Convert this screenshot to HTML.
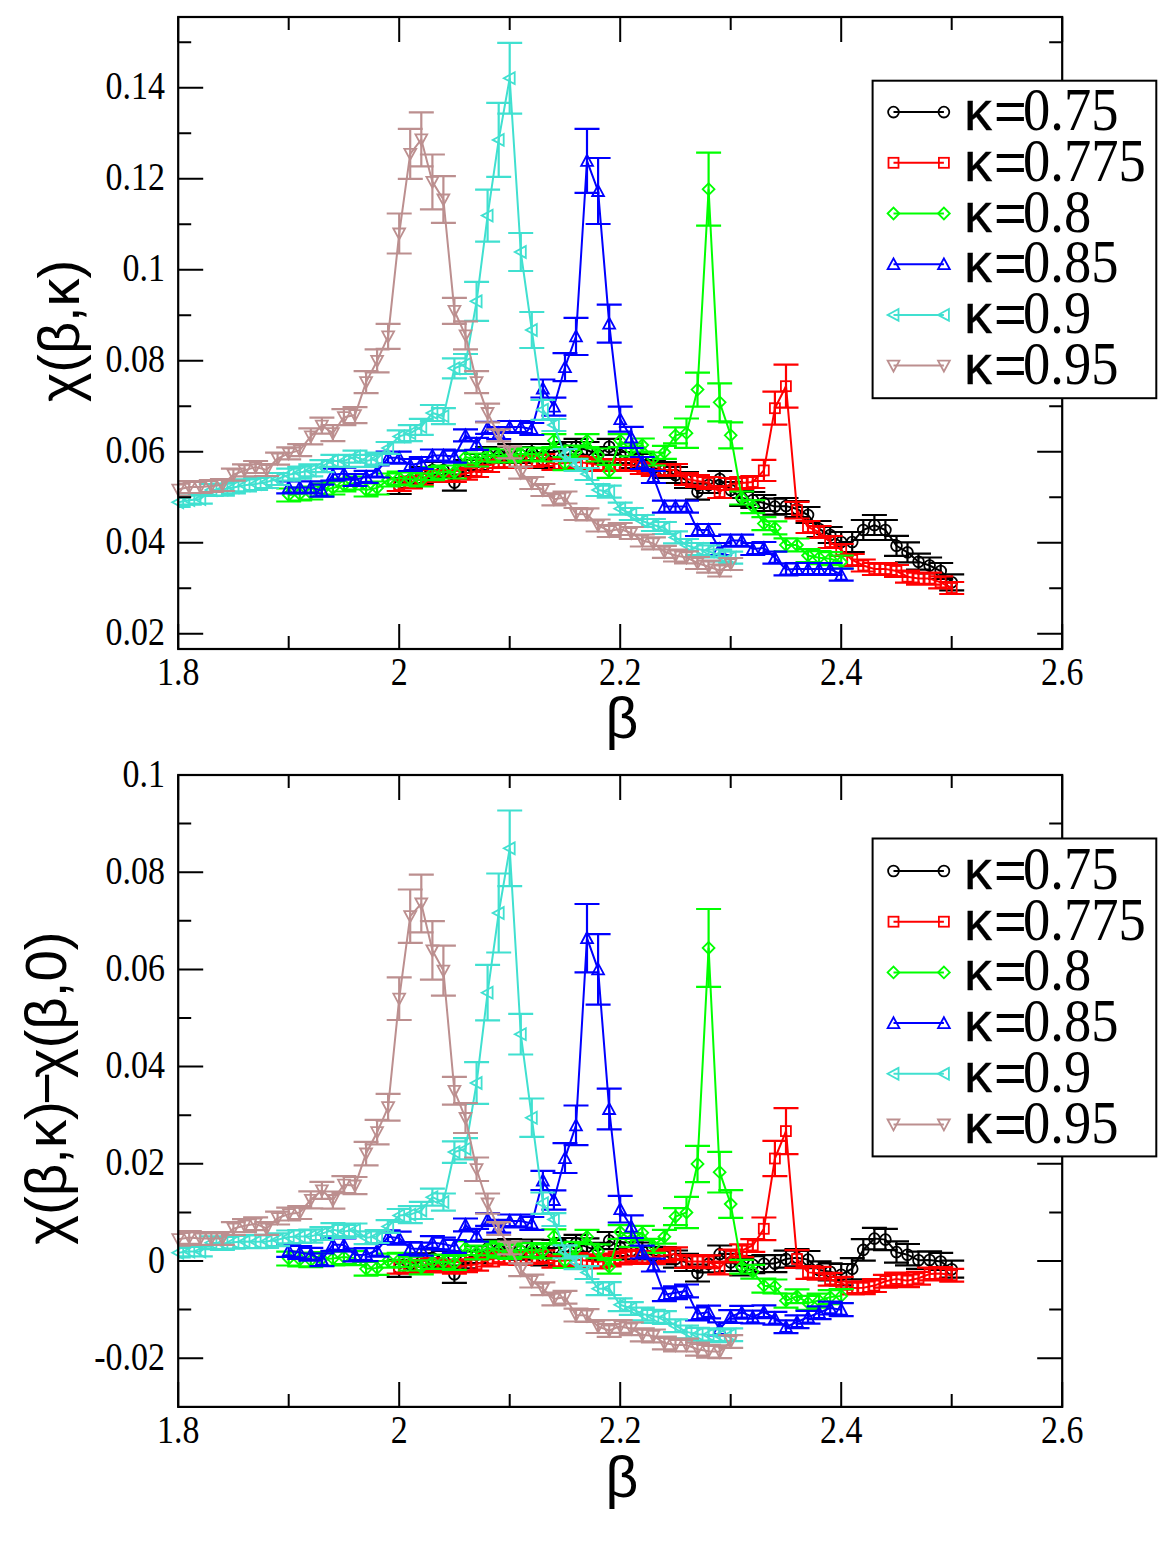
<!DOCTYPE html><html><head><meta charset="utf-8"><style>html,body{margin:0;padding:0;background:#fff;}svg{display:block}</style></head><body>
<svg width="1175" height="1565" viewBox="0 0 1175 1565">
<rect width="1175" height="1565" fill="#fff"/>
<defs><clipPath id="ct"><rect x="178.2" y="17.0" width="884.0" height="632.0"/></clipPath><clipPath id="cb"><rect x="178.2" y="775.0" width="884.0" height="631.9"/></clipPath></defs>
<g stroke="#000000" fill="none" stroke-width="2.0" clip-path="url(#ct)">
<polyline points="399.2,486.0 410.2,480.0 421.3,475.0 432.4,470.0 443.4,470.0 454.4,482.6 465.5,468.0 476.6,462.0 487.6,455.0 498.7,455.0 509.7,452.0 520.8,455.0 531.8,452.0 542.9,460.0 553.9,452.0 565.0,450.0 576.0,446.8 587.0,450.0 598.1,455.0 609.2,446.8 620.2,455.0 631.2,460.0 642.3,462.0 653.4,468.0 664.4,470.0 675.5,475.0 686.5,480.0 697.5,491.7 708.6,485.0 719.7,479.0 730.7,490.0 741.8,498.0 752.8,500.0 763.9,503.0 774.9,506.6 786.0,506.0 797.0,509.0 808.0,515.0 819.1,529.0 830.2,535.0 841.2,542.0 852.2,542.0 863.3,530.0 874.4,525.0 885.4,530.0 896.5,545.8 907.5,552.4 918.5,561.7 929.6,565.5 940.7,571.0 951.7,582.3"/>
<path d="M399.2 478.0V494.0M386.7 478.0H411.7M386.7 494.0H411.7M410.2 472.0V488.0M397.8 472.0H422.8M397.8 488.0H422.8M421.3 467.0V483.0M408.8 467.0H433.8M408.8 483.0H433.8M432.4 462.0V478.0M419.9 462.0H444.9M419.9 478.0H444.9M443.4 462.0V478.0M430.9 462.0H455.9M430.9 478.0H455.9M454.4 474.6V490.6M441.9 474.6H466.9M441.9 490.6H466.9M465.5 460.0V476.0M453.0 460.0H478.0M453.0 476.0H478.0M476.6 454.0V470.0M464.1 454.0H489.1M464.1 470.0H489.1M487.6 447.0V463.0M475.1 447.0H500.1M475.1 463.0H500.1M498.7 447.0V463.0M486.2 447.0H511.2M486.2 463.0H511.2M509.7 444.0V460.0M497.2 444.0H522.2M497.2 460.0H522.2M520.8 447.0V463.0M508.2 447.0H533.2M508.2 463.0H533.2M531.8 444.0V460.0M519.3 444.0H544.3M519.3 460.0H544.3M542.9 452.0V468.0M530.4 452.0H555.4M530.4 468.0H555.4M553.9 444.0V460.0M541.4 444.0H566.4M541.4 460.0H566.4M565.0 442.0V458.0M552.5 442.0H577.5M552.5 458.0H577.5M576.0 438.8V454.8M563.5 438.8H588.5M563.5 454.8H588.5M587.0 442.0V458.0M574.5 442.0H599.5M574.5 458.0H599.5M598.1 447.0V463.0M585.6 447.0H610.6M585.6 463.0H610.6M609.2 438.8V454.8M596.7 438.8H621.7M596.7 454.8H621.7M620.2 447.0V463.0M607.7 447.0H632.7M607.7 463.0H632.7M631.2 452.0V468.0M618.8 452.0H643.8M618.8 468.0H643.8M642.3 454.0V470.0M629.8 454.0H654.8M629.8 470.0H654.8M653.4 460.0V476.0M640.9 460.0H665.9M640.9 476.0H665.9M664.4 462.0V478.0M651.9 462.0H676.9M651.9 478.0H676.9M675.5 467.0V483.0M663.0 467.0H688.0M663.0 483.0H688.0M686.5 472.0V488.0M674.0 472.0H699.0M674.0 488.0H699.0M697.5 483.7V499.7M685.0 483.7H710.0M685.0 499.7H710.0M708.6 477.0V493.0M696.1 477.0H721.1M696.1 493.0H721.1M719.7 471.0V487.0M707.2 471.0H732.2M707.2 487.0H732.2M730.7 482.0V498.0M718.2 482.0H743.2M718.2 498.0H743.2M741.8 490.0V506.0M729.2 490.0H754.2M729.2 506.0H754.2M752.8 492.0V508.0M740.3 492.0H765.3M740.3 508.0H765.3M763.9 495.0V511.0M751.4 495.0H776.4M751.4 511.0H776.4M774.9 498.6V514.6M762.4 498.6H787.4M762.4 514.6H787.4M786.0 498.0V514.0M773.5 498.0H798.5M773.5 514.0H798.5M797.0 501.0V517.0M784.5 501.0H809.5M784.5 517.0H809.5M808.0 507.0V523.0M795.5 507.0H820.5M795.5 523.0H820.5M819.1 521.0V537.0M806.6 521.0H831.6M806.6 537.0H831.6M830.2 527.0V543.0M817.7 527.0H842.7M817.7 543.0H842.7M841.2 532.0V552.0M828.7 532.0H853.7M828.7 552.0H853.7M852.2 532.0V552.0M839.8 532.0H864.8M839.8 552.0H864.8M863.3 520.0V540.0M850.8 520.0H875.8M850.8 540.0H875.8M874.4 515.0V535.0M861.9 515.0H886.9M861.9 535.0H886.9M885.4 520.0V540.0M872.9 520.0H897.9M872.9 540.0H897.9M896.5 535.8V555.8M884.0 535.8H909.0M884.0 555.8H909.0M907.5 542.4V562.4M895.0 542.4H920.0M895.0 562.4H920.0M918.5 553.7V569.7M906.0 553.7H931.0M906.0 569.7H931.0M929.6 557.5V573.5M917.1 557.5H942.1M917.1 573.5H942.1M940.7 563.0V579.0M928.2 563.0H953.2M928.2 579.0H953.2M951.7 574.3V590.3M939.2 574.3H964.2M939.2 590.3H964.2" stroke-width="2.2"/>
</g>
<circle cx="399.2" cy="486.0" r="5.4" fill="none" stroke="#000000" stroke-width="1.8"/>
<circle cx="410.2" cy="480.0" r="5.4" fill="none" stroke="#000000" stroke-width="1.8"/>
<circle cx="421.3" cy="475.0" r="5.4" fill="none" stroke="#000000" stroke-width="1.8"/>
<circle cx="432.4" cy="470.0" r="5.4" fill="none" stroke="#000000" stroke-width="1.8"/>
<circle cx="443.4" cy="470.0" r="5.4" fill="none" stroke="#000000" stroke-width="1.8"/>
<circle cx="454.4" cy="482.6" r="5.4" fill="none" stroke="#000000" stroke-width="1.8"/>
<circle cx="465.5" cy="468.0" r="5.4" fill="none" stroke="#000000" stroke-width="1.8"/>
<circle cx="476.6" cy="462.0" r="5.4" fill="none" stroke="#000000" stroke-width="1.8"/>
<circle cx="487.6" cy="455.0" r="5.4" fill="none" stroke="#000000" stroke-width="1.8"/>
<circle cx="498.7" cy="455.0" r="5.4" fill="none" stroke="#000000" stroke-width="1.8"/>
<circle cx="509.7" cy="452.0" r="5.4" fill="none" stroke="#000000" stroke-width="1.8"/>
<circle cx="520.8" cy="455.0" r="5.4" fill="none" stroke="#000000" stroke-width="1.8"/>
<circle cx="531.8" cy="452.0" r="5.4" fill="none" stroke="#000000" stroke-width="1.8"/>
<circle cx="542.9" cy="460.0" r="5.4" fill="none" stroke="#000000" stroke-width="1.8"/>
<circle cx="553.9" cy="452.0" r="5.4" fill="none" stroke="#000000" stroke-width="1.8"/>
<circle cx="565.0" cy="450.0" r="5.4" fill="none" stroke="#000000" stroke-width="1.8"/>
<circle cx="576.0" cy="446.8" r="5.4" fill="none" stroke="#000000" stroke-width="1.8"/>
<circle cx="587.0" cy="450.0" r="5.4" fill="none" stroke="#000000" stroke-width="1.8"/>
<circle cx="598.1" cy="455.0" r="5.4" fill="none" stroke="#000000" stroke-width="1.8"/>
<circle cx="609.2" cy="446.8" r="5.4" fill="none" stroke="#000000" stroke-width="1.8"/>
<circle cx="620.2" cy="455.0" r="5.4" fill="none" stroke="#000000" stroke-width="1.8"/>
<circle cx="631.2" cy="460.0" r="5.4" fill="none" stroke="#000000" stroke-width="1.8"/>
<circle cx="642.3" cy="462.0" r="5.4" fill="none" stroke="#000000" stroke-width="1.8"/>
<circle cx="653.4" cy="468.0" r="5.4" fill="none" stroke="#000000" stroke-width="1.8"/>
<circle cx="664.4" cy="470.0" r="5.4" fill="none" stroke="#000000" stroke-width="1.8"/>
<circle cx="675.5" cy="475.0" r="5.4" fill="none" stroke="#000000" stroke-width="1.8"/>
<circle cx="686.5" cy="480.0" r="5.4" fill="none" stroke="#000000" stroke-width="1.8"/>
<circle cx="697.5" cy="491.7" r="5.4" fill="none" stroke="#000000" stroke-width="1.8"/>
<circle cx="708.6" cy="485.0" r="5.4" fill="none" stroke="#000000" stroke-width="1.8"/>
<circle cx="719.7" cy="479.0" r="5.4" fill="none" stroke="#000000" stroke-width="1.8"/>
<circle cx="730.7" cy="490.0" r="5.4" fill="none" stroke="#000000" stroke-width="1.8"/>
<circle cx="741.8" cy="498.0" r="5.4" fill="none" stroke="#000000" stroke-width="1.8"/>
<circle cx="752.8" cy="500.0" r="5.4" fill="none" stroke="#000000" stroke-width="1.8"/>
<circle cx="763.9" cy="503.0" r="5.4" fill="none" stroke="#000000" stroke-width="1.8"/>
<circle cx="774.9" cy="506.6" r="5.4" fill="none" stroke="#000000" stroke-width="1.8"/>
<circle cx="786.0" cy="506.0" r="5.4" fill="none" stroke="#000000" stroke-width="1.8"/>
<circle cx="797.0" cy="509.0" r="5.4" fill="none" stroke="#000000" stroke-width="1.8"/>
<circle cx="808.0" cy="515.0" r="5.4" fill="none" stroke="#000000" stroke-width="1.8"/>
<circle cx="819.1" cy="529.0" r="5.4" fill="none" stroke="#000000" stroke-width="1.8"/>
<circle cx="830.2" cy="535.0" r="5.4" fill="none" stroke="#000000" stroke-width="1.8"/>
<circle cx="841.2" cy="542.0" r="5.4" fill="none" stroke="#000000" stroke-width="1.8"/>
<circle cx="852.2" cy="542.0" r="5.4" fill="none" stroke="#000000" stroke-width="1.8"/>
<circle cx="863.3" cy="530.0" r="5.4" fill="none" stroke="#000000" stroke-width="1.8"/>
<circle cx="874.4" cy="525.0" r="5.4" fill="none" stroke="#000000" stroke-width="1.8"/>
<circle cx="885.4" cy="530.0" r="5.4" fill="none" stroke="#000000" stroke-width="1.8"/>
<circle cx="896.5" cy="545.8" r="5.4" fill="none" stroke="#000000" stroke-width="1.8"/>
<circle cx="907.5" cy="552.4" r="5.4" fill="none" stroke="#000000" stroke-width="1.8"/>
<circle cx="918.5" cy="561.7" r="5.4" fill="none" stroke="#000000" stroke-width="1.8"/>
<circle cx="929.6" cy="565.5" r="5.4" fill="none" stroke="#000000" stroke-width="1.8"/>
<circle cx="940.7" cy="571.0" r="5.4" fill="none" stroke="#000000" stroke-width="1.8"/>
<circle cx="951.7" cy="582.3" r="5.4" fill="none" stroke="#000000" stroke-width="1.8"/>
<g stroke="#ff0000" fill="none" stroke-width="2.0" clip-path="url(#ct)">
<polyline points="399.2,485.0 410.2,482.5 421.3,479.0 432.4,476.0 443.4,476.0 454.4,476.0 465.5,473.6 476.6,471.0 487.6,466.0 498.7,462.0 509.7,462.0 520.8,462.0 531.8,461.0 542.9,460.0 553.9,464.0 565.0,463.0 576.0,462.0 587.0,463.0 598.1,465.0 609.2,465.0 620.2,465.0 631.2,465.0 642.3,468.0 653.4,470.0 664.4,470.0 675.5,470.0 686.5,479.0 697.5,481.0 708.6,483.0 719.7,492.0 730.7,484.0 741.8,483.0 752.8,482.0 763.9,470.4 774.9,408.2 786.0,386.2 797.0,510.2 808.0,527.0 819.1,532.0 830.2,542.0 841.2,550.0 852.2,560.0 863.3,565.5 874.4,569.0 885.4,569.0 896.5,571.0 907.5,576.7 918.5,578.6 929.6,578.6 940.7,582.3 951.7,588.0"/>
<path d="M399.2 479.0V491.0M386.7 479.0H411.7M386.7 491.0H411.7M410.2 476.5V488.5M397.8 476.5H422.8M397.8 488.5H422.8M421.3 473.0V485.0M408.8 473.0H433.8M408.8 485.0H433.8M432.4 470.0V482.0M419.9 470.0H444.9M419.9 482.0H444.9M443.4 470.0V482.0M430.9 470.0H455.9M430.9 482.0H455.9M454.4 470.0V482.0M441.9 470.0H466.9M441.9 482.0H466.9M465.5 467.6V479.6M453.0 467.6H478.0M453.0 479.6H478.0M476.6 465.0V477.0M464.1 465.0H489.1M464.1 477.0H489.1M487.6 460.0V472.0M475.1 460.0H500.1M475.1 472.0H500.1M498.7 456.0V468.0M486.2 456.0H511.2M486.2 468.0H511.2M509.7 456.0V468.0M497.2 456.0H522.2M497.2 468.0H522.2M520.8 456.0V468.0M508.2 456.0H533.2M508.2 468.0H533.2M531.8 455.0V467.0M519.3 455.0H544.3M519.3 467.0H544.3M542.9 454.0V466.0M530.4 454.0H555.4M530.4 466.0H555.4M553.9 458.0V470.0M541.4 458.0H566.4M541.4 470.0H566.4M565.0 457.0V469.0M552.5 457.0H577.5M552.5 469.0H577.5M576.0 456.0V468.0M563.5 456.0H588.5M563.5 468.0H588.5M587.0 457.0V469.0M574.5 457.0H599.5M574.5 469.0H599.5M598.1 459.0V471.0M585.6 459.0H610.6M585.6 471.0H610.6M609.2 459.0V471.0M596.7 459.0H621.7M596.7 471.0H621.7M620.2 459.0V471.0M607.7 459.0H632.7M607.7 471.0H632.7M631.2 459.0V471.0M618.8 459.0H643.8M618.8 471.0H643.8M642.3 462.0V474.0M629.8 462.0H654.8M629.8 474.0H654.8M653.4 464.0V476.0M640.9 464.0H665.9M640.9 476.0H665.9M664.4 464.0V476.0M651.9 464.0H676.9M651.9 476.0H676.9M675.5 464.0V476.0M663.0 464.0H688.0M663.0 476.0H688.0M686.5 473.0V485.0M674.0 473.0H699.0M674.0 485.0H699.0M697.5 475.0V487.0M685.0 475.0H710.0M685.0 487.0H710.0M708.6 477.0V489.0M696.1 477.0H721.1M696.1 489.0H721.1M719.7 486.0V498.0M707.2 486.0H732.2M707.2 498.0H732.2M730.7 478.0V490.0M718.2 478.0H743.2M718.2 490.0H743.2M741.8 477.0V489.0M729.2 477.0H754.2M729.2 489.0H754.2M752.8 476.0V488.0M740.3 476.0H765.3M740.3 488.0H765.3M763.9 459.8V481.0M751.4 459.8H776.4M751.4 481.0H776.4M774.9 391.7V424.7M762.4 391.7H787.4M762.4 424.7H787.4M786.0 364.7V407.7M773.5 364.7H798.5M773.5 407.7H798.5M797.0 501.9V518.5M784.5 501.9H809.5M784.5 518.5H809.5M808.0 521.0V533.0M795.5 521.0H820.5M795.5 533.0H820.5M819.1 526.0V538.0M806.6 526.0H831.6M806.6 538.0H831.6M830.2 536.0V548.0M817.7 536.0H842.7M817.7 548.0H842.7M841.2 544.0V556.0M828.7 544.0H853.7M828.7 556.0H853.7M852.2 554.0V566.0M839.8 554.0H864.8M839.8 566.0H864.8M863.3 559.5V571.5M850.8 559.5H875.8M850.8 571.5H875.8M874.4 563.0V575.0M861.9 563.0H886.9M861.9 575.0H886.9M885.4 563.0V575.0M872.9 563.0H897.9M872.9 575.0H897.9M896.5 565.0V577.0M884.0 565.0H909.0M884.0 577.0H909.0M907.5 570.7V582.7M895.0 570.7H920.0M895.0 582.7H920.0M918.5 572.6V584.6M906.0 572.6H931.0M906.0 584.6H931.0M929.6 572.6V584.6M917.1 572.6H942.1M917.1 584.6H942.1M940.7 576.3V588.3M928.2 576.3H953.2M928.2 588.3H953.2M951.7 582.0V594.0M939.2 582.0H964.2M939.2 594.0H964.2" stroke-width="2.2"/>
</g>
<rect x="394.2" y="480.0" width="10.0" height="10.0" fill="none" stroke="#ff0000" stroke-width="1.8"/>
<rect x="405.2" y="477.5" width="10.0" height="10.0" fill="none" stroke="#ff0000" stroke-width="1.8"/>
<rect x="416.3" y="474.0" width="10.0" height="10.0" fill="none" stroke="#ff0000" stroke-width="1.8"/>
<rect x="427.3" y="471.0" width="10.0" height="10.0" fill="none" stroke="#ff0000" stroke-width="1.8"/>
<rect x="438.4" y="471.0" width="10.0" height="10.0" fill="none" stroke="#ff0000" stroke-width="1.8"/>
<rect x="449.4" y="471.0" width="10.0" height="10.0" fill="none" stroke="#ff0000" stroke-width="1.8"/>
<rect x="460.5" y="468.6" width="10.0" height="10.0" fill="none" stroke="#ff0000" stroke-width="1.8"/>
<rect x="471.5" y="466.0" width="10.0" height="10.0" fill="none" stroke="#ff0000" stroke-width="1.8"/>
<rect x="482.6" y="461.0" width="10.0" height="10.0" fill="none" stroke="#ff0000" stroke-width="1.8"/>
<rect x="493.6" y="457.0" width="10.0" height="10.0" fill="none" stroke="#ff0000" stroke-width="1.8"/>
<rect x="504.7" y="457.0" width="10.0" height="10.0" fill="none" stroke="#ff0000" stroke-width="1.8"/>
<rect x="515.7" y="457.0" width="10.0" height="10.0" fill="none" stroke="#ff0000" stroke-width="1.8"/>
<rect x="526.8" y="456.0" width="10.0" height="10.0" fill="none" stroke="#ff0000" stroke-width="1.8"/>
<rect x="537.8" y="455.0" width="10.0" height="10.0" fill="none" stroke="#ff0000" stroke-width="1.8"/>
<rect x="548.9" y="459.0" width="10.0" height="10.0" fill="none" stroke="#ff0000" stroke-width="1.8"/>
<rect x="559.9" y="458.0" width="10.0" height="10.0" fill="none" stroke="#ff0000" stroke-width="1.8"/>
<rect x="571.0" y="457.0" width="10.0" height="10.0" fill="none" stroke="#ff0000" stroke-width="1.8"/>
<rect x="582.0" y="458.0" width="10.0" height="10.0" fill="none" stroke="#ff0000" stroke-width="1.8"/>
<rect x="593.1" y="460.0" width="10.0" height="10.0" fill="none" stroke="#ff0000" stroke-width="1.8"/>
<rect x="604.1" y="460.0" width="10.0" height="10.0" fill="none" stroke="#ff0000" stroke-width="1.8"/>
<rect x="615.2" y="460.0" width="10.0" height="10.0" fill="none" stroke="#ff0000" stroke-width="1.8"/>
<rect x="626.2" y="460.0" width="10.0" height="10.0" fill="none" stroke="#ff0000" stroke-width="1.8"/>
<rect x="637.3" y="463.0" width="10.0" height="10.0" fill="none" stroke="#ff0000" stroke-width="1.8"/>
<rect x="648.3" y="465.0" width="10.0" height="10.0" fill="none" stroke="#ff0000" stroke-width="1.8"/>
<rect x="659.4" y="465.0" width="10.0" height="10.0" fill="none" stroke="#ff0000" stroke-width="1.8"/>
<rect x="670.4" y="465.0" width="10.0" height="10.0" fill="none" stroke="#ff0000" stroke-width="1.8"/>
<rect x="681.5" y="474.0" width="10.0" height="10.0" fill="none" stroke="#ff0000" stroke-width="1.8"/>
<rect x="692.5" y="476.0" width="10.0" height="10.0" fill="none" stroke="#ff0000" stroke-width="1.8"/>
<rect x="703.6" y="478.0" width="10.0" height="10.0" fill="none" stroke="#ff0000" stroke-width="1.8"/>
<rect x="714.6" y="487.0" width="10.0" height="10.0" fill="none" stroke="#ff0000" stroke-width="1.8"/>
<rect x="725.7" y="479.0" width="10.0" height="10.0" fill="none" stroke="#ff0000" stroke-width="1.8"/>
<rect x="736.7" y="478.0" width="10.0" height="10.0" fill="none" stroke="#ff0000" stroke-width="1.8"/>
<rect x="747.8" y="477.0" width="10.0" height="10.0" fill="none" stroke="#ff0000" stroke-width="1.8"/>
<rect x="758.8" y="465.4" width="10.0" height="10.0" fill="none" stroke="#ff0000" stroke-width="1.8"/>
<rect x="769.9" y="403.2" width="10.0" height="10.0" fill="none" stroke="#ff0000" stroke-width="1.8"/>
<rect x="780.9" y="381.2" width="10.0" height="10.0" fill="none" stroke="#ff0000" stroke-width="1.8"/>
<rect x="792.0" y="505.2" width="10.0" height="10.0" fill="none" stroke="#ff0000" stroke-width="1.8"/>
<rect x="803.0" y="522.0" width="10.0" height="10.0" fill="none" stroke="#ff0000" stroke-width="1.8"/>
<rect x="814.1" y="527.0" width="10.0" height="10.0" fill="none" stroke="#ff0000" stroke-width="1.8"/>
<rect x="825.1" y="537.0" width="10.0" height="10.0" fill="none" stroke="#ff0000" stroke-width="1.8"/>
<rect x="836.2" y="545.0" width="10.0" height="10.0" fill="none" stroke="#ff0000" stroke-width="1.8"/>
<rect x="847.2" y="555.0" width="10.0" height="10.0" fill="none" stroke="#ff0000" stroke-width="1.8"/>
<rect x="858.3" y="560.5" width="10.0" height="10.0" fill="none" stroke="#ff0000" stroke-width="1.8"/>
<rect x="869.3" y="564.0" width="10.0" height="10.0" fill="none" stroke="#ff0000" stroke-width="1.8"/>
<rect x="880.4" y="564.0" width="10.0" height="10.0" fill="none" stroke="#ff0000" stroke-width="1.8"/>
<rect x="891.4" y="566.0" width="10.0" height="10.0" fill="none" stroke="#ff0000" stroke-width="1.8"/>
<rect x="902.5" y="571.7" width="10.0" height="10.0" fill="none" stroke="#ff0000" stroke-width="1.8"/>
<rect x="913.5" y="573.6" width="10.0" height="10.0" fill="none" stroke="#ff0000" stroke-width="1.8"/>
<rect x="924.6" y="573.6" width="10.0" height="10.0" fill="none" stroke="#ff0000" stroke-width="1.8"/>
<rect x="935.6" y="577.3" width="10.0" height="10.0" fill="none" stroke="#ff0000" stroke-width="1.8"/>
<rect x="946.7" y="583.0" width="10.0" height="10.0" fill="none" stroke="#ff0000" stroke-width="1.8"/>
<g stroke="#00ff00" fill="none" stroke-width="2.0" clip-path="url(#ct)">
<polyline points="288.7,495.0 299.8,494.0 310.8,493.0 321.9,490.0 332.9,488.0 343.9,485.0 355.0,483.0 366.1,490.0 377.1,488.0 388.1,480.0 399.2,478.0 410.2,479.0 421.3,480.0 432.4,473.6 443.4,472.0 454.4,472.0 465.5,457.0 476.6,460.0 487.6,455.0 498.7,456.0 509.7,456.0 520.8,454.0 531.8,454.0 542.9,455.0 553.9,440.6 565.0,463.6 576.0,452.0 587.0,440.6 598.1,455.0 609.2,471.3 620.2,440.6 631.2,449.8 642.3,445.0 653.4,459.0 664.4,452.3 675.5,435.3 686.5,433.2 697.5,389.6 708.6,189.2 719.7,402.3 730.7,435.3 741.8,498.0 752.8,506.6 763.9,523.6 774.9,527.9 786.0,544.9 797.0,545.0 808.0,555.5 819.1,557.7 830.2,558.7 841.2,562.0"/>
<path d="M288.7 488.5V501.5M276.2 488.5H301.2M276.2 501.5H301.2M299.8 487.5V500.5M287.2 487.5H312.2M287.2 500.5H312.2M310.8 486.5V499.5M298.3 486.5H323.3M298.3 499.5H323.3M321.9 483.5V496.5M309.4 483.5H334.4M309.4 496.5H334.4M332.9 481.5V494.5M320.4 481.5H345.4M320.4 494.5H345.4M343.9 478.5V491.5M331.4 478.5H356.4M331.4 491.5H356.4M355.0 476.5V489.5M342.5 476.5H367.5M342.5 489.5H367.5M366.1 483.5V496.5M353.6 483.5H378.6M353.6 496.5H378.6M377.1 481.5V494.5M364.6 481.5H389.6M364.6 494.5H389.6M388.1 473.5V486.5M375.6 473.5H400.6M375.6 486.5H400.6M399.2 471.5V484.5M386.7 471.5H411.7M386.7 484.5H411.7M410.2 472.5V485.5M397.8 472.5H422.8M397.8 485.5H422.8M421.3 473.5V486.5M408.8 473.5H433.8M408.8 486.5H433.8M432.4 467.1V480.1M419.9 467.1H444.9M419.9 480.1H444.9M443.4 465.5V478.5M430.9 465.5H455.9M430.9 478.5H455.9M454.4 465.5V478.5M441.9 465.5H466.9M441.9 478.5H466.9M465.5 450.5V463.5M453.0 450.5H478.0M453.0 463.5H478.0M476.6 453.5V466.5M464.1 453.5H489.1M464.1 466.5H489.1M487.6 448.5V461.5M475.1 448.5H500.1M475.1 461.5H500.1M498.7 449.5V462.5M486.2 449.5H511.2M486.2 462.5H511.2M509.7 449.5V462.5M497.2 449.5H522.2M497.2 462.5H522.2M520.8 447.5V460.5M508.2 447.5H533.2M508.2 460.5H533.2M531.8 447.5V460.5M519.3 447.5H544.3M519.3 460.5H544.3M542.9 448.5V461.5M530.4 448.5H555.4M530.4 461.5H555.4M553.9 434.1V447.1M541.4 434.1H566.4M541.4 447.1H566.4M565.0 457.1V470.1M552.5 457.1H577.5M552.5 470.1H577.5M576.0 445.5V458.5M563.5 445.5H588.5M563.5 458.5H588.5M587.0 434.1V447.1M574.5 434.1H599.5M574.5 447.1H599.5M598.1 448.5V461.5M585.6 448.5H610.6M585.6 461.5H610.6M609.2 464.8V477.8M596.7 464.8H621.7M596.7 477.8H621.7M620.2 434.1V447.1M607.7 434.1H632.7M607.7 447.1H632.7M631.2 443.3V456.3M618.8 443.3H643.8M618.8 456.3H643.8M642.3 438.5V451.5M629.8 438.5H654.8M629.8 451.5H654.8M653.4 452.5V465.5M640.9 452.5H665.9M640.9 465.5H665.9M664.4 445.8V458.8M651.9 445.8H676.9M651.9 458.8H676.9M675.5 427.3V443.3M663.0 427.3H688.0M663.0 443.3H688.0M686.5 418.5V447.9M674.0 418.5H699.0M674.0 447.9H699.0M697.5 372.6V406.6M685.0 372.6H710.0M685.0 406.6H710.0M708.6 152.7V225.7M696.1 152.7H721.1M696.1 225.7H721.1M719.7 383.3V421.3M707.2 383.3H732.2M707.2 421.3H732.2M730.7 422.3V448.3M718.2 422.3H743.2M718.2 448.3H743.2M741.8 491.5V504.5M729.2 491.5H754.2M729.2 504.5H754.2M752.8 500.1V513.1M740.3 500.1H765.3M740.3 513.1H765.3M763.9 517.1V530.1M751.4 517.1H776.4M751.4 530.1H776.4M774.9 521.4V534.4M762.4 521.4H787.4M762.4 534.4H787.4M786.0 538.4V551.4M773.5 538.4H798.5M773.5 551.4H798.5M797.0 538.5V551.5M784.5 538.5H809.5M784.5 551.5H809.5M808.0 549.0V562.0M795.5 549.0H820.5M795.5 562.0H820.5M819.1 551.2V564.2M806.6 551.2H831.6M806.6 564.2H831.6M830.2 552.2V565.2M817.7 552.2H842.7M817.7 565.2H842.7M841.2 555.5V568.5M828.7 555.5H853.7M828.7 568.5H853.7" stroke-width="2.2"/>
</g>
<path d="M282.8 495.0L288.7 489.1L294.6 495.0L288.7 500.9Z" fill="none" stroke="#00ff00" stroke-width="1.8"/>
<path d="M293.8 494.0L299.8 488.1L305.7 494.0L299.8 499.9Z" fill="none" stroke="#00ff00" stroke-width="1.8"/>
<path d="M304.9 493.0L310.8 487.1L316.7 493.0L310.8 498.9Z" fill="none" stroke="#00ff00" stroke-width="1.8"/>
<path d="M315.9 490.0L321.9 484.1L327.8 490.0L321.9 495.9Z" fill="none" stroke="#00ff00" stroke-width="1.8"/>
<path d="M327.0 488.0L332.9 482.1L338.8 488.0L332.9 493.9Z" fill="none" stroke="#00ff00" stroke-width="1.8"/>
<path d="M338.0 485.0L343.9 479.1L349.9 485.0L343.9 490.9Z" fill="none" stroke="#00ff00" stroke-width="1.8"/>
<path d="M349.1 483.0L355.0 477.1L360.9 483.0L355.0 488.9Z" fill="none" stroke="#00ff00" stroke-width="1.8"/>
<path d="M360.1 490.0L366.1 484.1L372.0 490.0L366.1 495.9Z" fill="none" stroke="#00ff00" stroke-width="1.8"/>
<path d="M371.2 488.0L377.1 482.1L383.0 488.0L377.1 493.9Z" fill="none" stroke="#00ff00" stroke-width="1.8"/>
<path d="M382.2 480.0L388.1 474.1L394.1 480.0L388.1 485.9Z" fill="none" stroke="#00ff00" stroke-width="1.8"/>
<path d="M393.3 478.0L399.2 472.1L405.1 478.0L399.2 483.9Z" fill="none" stroke="#00ff00" stroke-width="1.8"/>
<path d="M404.3 479.0L410.2 473.1L416.2 479.0L410.2 484.9Z" fill="none" stroke="#00ff00" stroke-width="1.8"/>
<path d="M415.4 480.0L421.3 474.1L427.2 480.0L421.3 485.9Z" fill="none" stroke="#00ff00" stroke-width="1.8"/>
<path d="M426.4 473.6L432.4 467.7L438.3 473.6L432.4 479.5Z" fill="none" stroke="#00ff00" stroke-width="1.8"/>
<path d="M437.5 472.0L443.4 466.1L449.3 472.0L443.4 477.9Z" fill="none" stroke="#00ff00" stroke-width="1.8"/>
<path d="M448.5 472.0L454.4 466.1L460.4 472.0L454.4 477.9Z" fill="none" stroke="#00ff00" stroke-width="1.8"/>
<path d="M459.6 457.0L465.5 451.1L471.4 457.0L465.5 462.9Z" fill="none" stroke="#00ff00" stroke-width="1.8"/>
<path d="M470.6 460.0L476.6 454.1L482.5 460.0L476.6 465.9Z" fill="none" stroke="#00ff00" stroke-width="1.8"/>
<path d="M481.7 455.0L487.6 449.1L493.5 455.0L487.6 460.9Z" fill="none" stroke="#00ff00" stroke-width="1.8"/>
<path d="M492.7 456.0L498.7 450.1L504.6 456.0L498.7 461.9Z" fill="none" stroke="#00ff00" stroke-width="1.8"/>
<path d="M503.8 456.0L509.7 450.1L515.6 456.0L509.7 461.9Z" fill="none" stroke="#00ff00" stroke-width="1.8"/>
<path d="M514.8 454.0L520.8 448.1L526.7 454.0L520.8 459.9Z" fill="none" stroke="#00ff00" stroke-width="1.8"/>
<path d="M525.9 454.0L531.8 448.1L537.7 454.0L531.8 459.9Z" fill="none" stroke="#00ff00" stroke-width="1.8"/>
<path d="M536.9 455.0L542.9 449.1L548.8 455.0L542.9 460.9Z" fill="none" stroke="#00ff00" stroke-width="1.8"/>
<path d="M548.0 440.6L553.9 434.7L559.8 440.6L553.9 446.5Z" fill="none" stroke="#00ff00" stroke-width="1.8"/>
<path d="M559.0 463.6L565.0 457.7L570.9 463.6L565.0 469.5Z" fill="none" stroke="#00ff00" stroke-width="1.8"/>
<path d="M570.1 452.0L576.0 446.1L581.9 452.0L576.0 457.9Z" fill="none" stroke="#00ff00" stroke-width="1.8"/>
<path d="M581.1 440.6L587.0 434.7L593.0 440.6L587.0 446.5Z" fill="none" stroke="#00ff00" stroke-width="1.8"/>
<path d="M592.2 455.0L598.1 449.1L604.0 455.0L598.1 460.9Z" fill="none" stroke="#00ff00" stroke-width="1.8"/>
<path d="M603.2 471.3L609.2 465.4L615.1 471.3L609.2 477.2Z" fill="none" stroke="#00ff00" stroke-width="1.8"/>
<path d="M614.3 440.6L620.2 434.7L626.1 440.6L620.2 446.5Z" fill="none" stroke="#00ff00" stroke-width="1.8"/>
<path d="M625.3 449.8L631.2 443.9L637.2 449.8L631.2 455.7Z" fill="none" stroke="#00ff00" stroke-width="1.8"/>
<path d="M636.4 445.0L642.3 439.1L648.2 445.0L642.3 450.9Z" fill="none" stroke="#00ff00" stroke-width="1.8"/>
<path d="M647.4 459.0L653.4 453.1L659.3 459.0L653.4 464.9Z" fill="none" stroke="#00ff00" stroke-width="1.8"/>
<path d="M658.5 452.3L664.4 446.4L670.3 452.3L664.4 458.2Z" fill="none" stroke="#00ff00" stroke-width="1.8"/>
<path d="M669.5 435.3L675.5 429.4L681.4 435.3L675.5 441.2Z" fill="none" stroke="#00ff00" stroke-width="1.8"/>
<path d="M680.6 433.2L686.5 427.3L692.4 433.2L686.5 439.1Z" fill="none" stroke="#00ff00" stroke-width="1.8"/>
<path d="M691.6 389.6L697.5 383.7L703.5 389.6L697.5 395.5Z" fill="none" stroke="#00ff00" stroke-width="1.8"/>
<path d="M702.7 189.2L708.6 183.3L714.5 189.2L708.6 195.1Z" fill="none" stroke="#00ff00" stroke-width="1.8"/>
<path d="M713.7 402.3L719.7 396.4L725.6 402.3L719.7 408.2Z" fill="none" stroke="#00ff00" stroke-width="1.8"/>
<path d="M724.8 435.3L730.7 429.4L736.6 435.3L730.7 441.2Z" fill="none" stroke="#00ff00" stroke-width="1.8"/>
<path d="M735.8 498.0L741.8 492.1L747.7 498.0L741.8 503.9Z" fill="none" stroke="#00ff00" stroke-width="1.8"/>
<path d="M746.9 506.6L752.8 500.7L758.7 506.6L752.8 512.5Z" fill="none" stroke="#00ff00" stroke-width="1.8"/>
<path d="M757.9 523.6L763.9 517.7L769.8 523.6L763.9 529.5Z" fill="none" stroke="#00ff00" stroke-width="1.8"/>
<path d="M769.0 527.9L774.9 522.0L780.8 527.9L774.9 533.8Z" fill="none" stroke="#00ff00" stroke-width="1.8"/>
<path d="M780.0 544.9L786.0 539.0L791.9 544.9L786.0 550.8Z" fill="none" stroke="#00ff00" stroke-width="1.8"/>
<path d="M791.1 545.0L797.0 539.1L802.9 545.0L797.0 550.9Z" fill="none" stroke="#00ff00" stroke-width="1.8"/>
<path d="M802.1 555.5L808.0 549.6L814.0 555.5L808.0 561.4Z" fill="none" stroke="#00ff00" stroke-width="1.8"/>
<path d="M813.2 557.7L819.1 551.8L825.0 557.7L819.1 563.6Z" fill="none" stroke="#00ff00" stroke-width="1.8"/>
<path d="M824.2 558.7L830.2 552.8L836.1 558.7L830.2 564.6Z" fill="none" stroke="#00ff00" stroke-width="1.8"/>
<path d="M835.3 562.0L841.2 556.1L847.1 562.0L841.2 567.9Z" fill="none" stroke="#00ff00" stroke-width="1.8"/>
<g stroke="#0000ff" fill="none" stroke-width="2.0" clip-path="url(#ct)">
<polyline points="288.7,487.4 299.8,487.4 310.8,487.4 321.9,490.6 332.9,474.7 343.9,473.6 355.0,480.0 366.1,476.8 377.1,471.5 388.1,457.7 399.2,457.7 410.2,465.0 421.3,463.0 432.4,455.5 443.4,455.5 454.4,456.6 465.5,435.3 476.6,443.8 487.6,427.9 498.7,433.2 509.7,427.0 520.8,427.0 531.8,429.0 542.9,388.5 553.9,406.6 565.0,367.2 576.0,336.4 587.0,160.9 598.1,191.0 609.2,323.6 620.2,419.2 631.2,437.4 642.3,463.0 653.4,477.0 664.4,506.6 675.5,506.6 686.5,506.6 697.5,530.0 708.6,530.0 719.7,549.0 730.7,540.6 741.8,540.6 752.8,549.0 763.9,548.0 774.9,557.7 786.0,569.4 797.0,569.0 808.0,569.0 819.1,569.0 830.2,569.0 841.2,574.7"/>
<path d="M288.7 481.4V493.4M276.2 481.4H301.2M276.2 493.4H301.2M299.8 481.4V493.4M287.2 481.4H312.2M287.2 493.4H312.2M310.8 481.4V493.4M298.3 481.4H323.3M298.3 493.4H323.3M321.9 484.6V496.6M309.4 484.6H334.4M309.4 496.6H334.4M332.9 468.7V480.7M320.4 468.7H345.4M320.4 480.7H345.4M343.9 467.6V479.6M331.4 467.6H356.4M331.4 479.6H356.4M355.0 474.0V486.0M342.5 474.0H367.5M342.5 486.0H367.5M366.1 470.8V482.8M353.6 470.8H378.6M353.6 482.8H378.6M377.1 465.5V477.5M364.6 465.5H389.6M364.6 477.5H389.6M388.1 451.7V463.7M375.6 451.7H400.6M375.6 463.7H400.6M399.2 451.7V463.7M386.7 451.7H411.7M386.7 463.7H411.7M410.2 459.0V471.0M397.8 459.0H422.8M397.8 471.0H422.8M421.3 457.0V469.0M408.8 457.0H433.8M408.8 469.0H433.8M432.4 449.5V461.5M419.9 449.5H444.9M419.9 461.5H444.9M443.4 449.5V461.5M430.9 449.5H455.9M430.9 461.5H455.9M454.4 450.6V462.6M441.9 450.6H466.9M441.9 462.6H466.9M465.5 429.3V441.3M453.0 429.3H478.0M453.0 441.3H478.0M476.6 437.8V449.8M464.1 437.8H489.1M464.1 449.8H489.1M487.6 421.9V433.9M475.1 421.9H500.1M475.1 433.9H500.1M498.7 427.2V439.2M486.2 427.2H511.2M486.2 439.2H511.2M509.7 421.0V433.0M497.2 421.0H522.2M497.2 433.0H522.2M520.8 421.0V433.0M508.2 421.0H533.2M508.2 433.0H533.2M531.8 423.0V435.0M519.3 423.0H544.3M519.3 435.0H544.3M542.9 379.5V397.5M530.4 379.5H555.4M530.4 397.5H555.4M553.9 397.6V415.6M541.4 397.6H566.4M541.4 415.6H566.4M565.0 353.2V381.2M552.5 353.2H577.5M552.5 381.2H577.5M576.0 317.8V355.0M563.5 317.8H588.5M563.5 355.0H588.5M587.0 128.9V192.9M574.5 128.9H599.5M574.5 192.9H599.5M598.1 158.0V224.0M585.6 158.0H610.6M585.6 224.0H610.6M609.2 304.6V342.6M596.7 304.6H621.7M596.7 342.6H621.7M620.2 406.7V431.7M607.7 406.7H632.7M607.7 431.7H632.7M631.2 426.8V448.0M618.8 426.8H643.8M618.8 448.0H643.8M642.3 457.0V469.0M629.8 457.0H654.8M629.8 469.0H654.8M653.4 471.0V483.0M640.9 471.0H665.9M640.9 483.0H665.9M664.4 500.6V512.6M651.9 500.6H676.9M651.9 512.6H676.9M675.5 500.6V512.6M663.0 500.6H688.0M663.0 512.6H688.0M686.5 500.6V512.6M674.0 500.6H699.0M674.0 512.6H699.0M697.5 524.0V536.0M685.0 524.0H710.0M685.0 536.0H710.0M708.6 524.0V536.0M696.1 524.0H721.1M696.1 536.0H721.1M719.7 543.0V555.0M707.2 543.0H732.2M707.2 555.0H732.2M730.7 534.6V546.6M718.2 534.6H743.2M718.2 546.6H743.2M741.8 534.6V546.6M729.2 534.6H754.2M729.2 546.6H754.2M752.8 543.0V555.0M740.3 543.0H765.3M740.3 555.0H765.3M763.9 542.0V554.0M751.4 542.0H776.4M751.4 554.0H776.4M774.9 551.7V563.7M762.4 551.7H787.4M762.4 563.7H787.4M786.0 563.4V575.4M773.5 563.4H798.5M773.5 575.4H798.5M797.0 563.0V575.0M784.5 563.0H809.5M784.5 575.0H809.5M808.0 563.0V575.0M795.5 563.0H820.5M795.5 575.0H820.5M819.1 563.0V575.0M806.6 563.0H831.6M806.6 575.0H831.6M830.2 563.0V575.0M817.7 563.0H842.7M817.7 575.0H842.7M841.2 568.7V580.7M828.7 568.7H853.7M828.7 580.7H853.7" stroke-width="2.2"/>
</g>
<path d="M282.8 492.4L288.7 481.5L294.6 492.4Z" fill="none" stroke="#0000ff" stroke-width="1.8"/>
<path d="M293.8 492.4L299.8 481.5L305.7 492.4Z" fill="none" stroke="#0000ff" stroke-width="1.8"/>
<path d="M304.9 492.4L310.8 481.5L316.7 492.4Z" fill="none" stroke="#0000ff" stroke-width="1.8"/>
<path d="M315.9 495.6L321.9 484.7L327.8 495.6Z" fill="none" stroke="#0000ff" stroke-width="1.8"/>
<path d="M327.0 479.7L332.9 468.8L338.8 479.7Z" fill="none" stroke="#0000ff" stroke-width="1.8"/>
<path d="M338.0 478.6L343.9 467.7L349.9 478.6Z" fill="none" stroke="#0000ff" stroke-width="1.8"/>
<path d="M349.1 485.0L355.0 474.1L360.9 485.0Z" fill="none" stroke="#0000ff" stroke-width="1.8"/>
<path d="M360.1 481.8L366.1 470.9L372.0 481.8Z" fill="none" stroke="#0000ff" stroke-width="1.8"/>
<path d="M371.2 476.5L377.1 465.6L383.0 476.5Z" fill="none" stroke="#0000ff" stroke-width="1.8"/>
<path d="M382.2 462.7L388.1 451.8L394.1 462.7Z" fill="none" stroke="#0000ff" stroke-width="1.8"/>
<path d="M393.3 462.7L399.2 451.8L405.1 462.7Z" fill="none" stroke="#0000ff" stroke-width="1.8"/>
<path d="M404.3 470.0L410.2 459.1L416.2 470.0Z" fill="none" stroke="#0000ff" stroke-width="1.8"/>
<path d="M415.4 468.0L421.3 457.1L427.2 468.0Z" fill="none" stroke="#0000ff" stroke-width="1.8"/>
<path d="M426.4 460.5L432.4 449.6L438.3 460.5Z" fill="none" stroke="#0000ff" stroke-width="1.8"/>
<path d="M437.5 460.5L443.4 449.6L449.3 460.5Z" fill="none" stroke="#0000ff" stroke-width="1.8"/>
<path d="M448.5 461.6L454.4 450.7L460.4 461.6Z" fill="none" stroke="#0000ff" stroke-width="1.8"/>
<path d="M459.6 440.3L465.5 429.4L471.4 440.3Z" fill="none" stroke="#0000ff" stroke-width="1.8"/>
<path d="M470.6 448.8L476.6 437.9L482.5 448.8Z" fill="none" stroke="#0000ff" stroke-width="1.8"/>
<path d="M481.7 432.9L487.6 422.0L493.5 432.9Z" fill="none" stroke="#0000ff" stroke-width="1.8"/>
<path d="M492.7 438.2L498.7 427.3L504.6 438.2Z" fill="none" stroke="#0000ff" stroke-width="1.8"/>
<path d="M503.8 432.0L509.7 421.1L515.6 432.0Z" fill="none" stroke="#0000ff" stroke-width="1.8"/>
<path d="M514.8 432.0L520.8 421.1L526.7 432.0Z" fill="none" stroke="#0000ff" stroke-width="1.8"/>
<path d="M525.9 434.0L531.8 423.1L537.7 434.0Z" fill="none" stroke="#0000ff" stroke-width="1.8"/>
<path d="M536.9 393.5L542.9 382.6L548.8 393.5Z" fill="none" stroke="#0000ff" stroke-width="1.8"/>
<path d="M548.0 411.6L553.9 400.7L559.8 411.6Z" fill="none" stroke="#0000ff" stroke-width="1.8"/>
<path d="M559.0 372.2L565.0 361.3L570.9 372.2Z" fill="none" stroke="#0000ff" stroke-width="1.8"/>
<path d="M570.1 341.4L576.0 330.5L581.9 341.4Z" fill="none" stroke="#0000ff" stroke-width="1.8"/>
<path d="M581.1 165.9L587.0 155.0L593.0 165.9Z" fill="none" stroke="#0000ff" stroke-width="1.8"/>
<path d="M592.2 196.0L598.1 185.1L604.0 196.0Z" fill="none" stroke="#0000ff" stroke-width="1.8"/>
<path d="M603.2 328.6L609.2 317.7L615.1 328.6Z" fill="none" stroke="#0000ff" stroke-width="1.8"/>
<path d="M614.3 424.2L620.2 413.3L626.1 424.2Z" fill="none" stroke="#0000ff" stroke-width="1.8"/>
<path d="M625.3 442.4L631.2 431.5L637.2 442.4Z" fill="none" stroke="#0000ff" stroke-width="1.8"/>
<path d="M636.4 468.0L642.3 457.1L648.2 468.0Z" fill="none" stroke="#0000ff" stroke-width="1.8"/>
<path d="M647.4 482.0L653.4 471.1L659.3 482.0Z" fill="none" stroke="#0000ff" stroke-width="1.8"/>
<path d="M658.5 511.6L664.4 500.7L670.3 511.6Z" fill="none" stroke="#0000ff" stroke-width="1.8"/>
<path d="M669.5 511.6L675.5 500.7L681.4 511.6Z" fill="none" stroke="#0000ff" stroke-width="1.8"/>
<path d="M680.6 511.6L686.5 500.7L692.4 511.6Z" fill="none" stroke="#0000ff" stroke-width="1.8"/>
<path d="M691.6 535.0L697.5 524.1L703.5 535.0Z" fill="none" stroke="#0000ff" stroke-width="1.8"/>
<path d="M702.7 535.0L708.6 524.1L714.5 535.0Z" fill="none" stroke="#0000ff" stroke-width="1.8"/>
<path d="M713.7 554.0L719.7 543.1L725.6 554.0Z" fill="none" stroke="#0000ff" stroke-width="1.8"/>
<path d="M724.8 545.6L730.7 534.7L736.6 545.6Z" fill="none" stroke="#0000ff" stroke-width="1.8"/>
<path d="M735.8 545.6L741.8 534.7L747.7 545.6Z" fill="none" stroke="#0000ff" stroke-width="1.8"/>
<path d="M746.9 554.0L752.8 543.1L758.7 554.0Z" fill="none" stroke="#0000ff" stroke-width="1.8"/>
<path d="M757.9 553.0L763.9 542.1L769.8 553.0Z" fill="none" stroke="#0000ff" stroke-width="1.8"/>
<path d="M769.0 562.7L774.9 551.8L780.8 562.7Z" fill="none" stroke="#0000ff" stroke-width="1.8"/>
<path d="M780.0 574.4L786.0 563.5L791.9 574.4Z" fill="none" stroke="#0000ff" stroke-width="1.8"/>
<path d="M791.1 574.0L797.0 563.1L802.9 574.0Z" fill="none" stroke="#0000ff" stroke-width="1.8"/>
<path d="M802.1 574.0L808.0 563.1L814.0 574.0Z" fill="none" stroke="#0000ff" stroke-width="1.8"/>
<path d="M813.2 574.0L819.1 563.1L825.0 574.0Z" fill="none" stroke="#0000ff" stroke-width="1.8"/>
<path d="M824.2 574.0L830.2 563.1L836.1 574.0Z" fill="none" stroke="#0000ff" stroke-width="1.8"/>
<path d="M835.3 579.7L841.2 568.8L847.1 579.7Z" fill="none" stroke="#0000ff" stroke-width="1.8"/>
<g stroke="#40e0d0" fill="none" stroke-width="2.0" clip-path="url(#ct)">
<polyline points="178.2,502.3 189.2,500.2 200.3,499.1 211.3,490.0 222.4,489.6 233.4,487.4 244.5,485.3 255.6,484.0 266.6,482.0 277.6,479.0 288.7,474.7 299.8,472.6 310.8,470.4 321.9,466.2 332.9,460.9 343.9,460.9 355.0,456.6 366.1,460.9 377.1,458.7 388.1,448.0 399.2,436.4 410.2,433.2 421.3,426.8 432.4,413.0 443.4,416.2 454.4,368.3 465.5,364.0 476.6,301.3 487.6,215.6 498.7,139.9 509.7,78.2 520.8,252.0 531.8,330.0 542.9,409.8 553.9,425.0 565.0,455.0 576.0,465.0 587.0,474.0 598.1,490.0 609.2,491.7 620.2,508.7 631.2,514.0 642.3,521.0 653.4,525.0 664.4,528.0 675.5,537.4 686.5,545.0 697.5,549.0 708.6,551.3 719.7,555.5 730.7,557.7"/>
<path d="M178.2 497.8V506.8M165.7 497.8H190.7M165.7 506.8H190.7M189.2 495.7V504.7M176.8 495.7H201.8M176.8 504.7H201.8M200.3 494.6V503.6M187.8 494.6H212.8M187.8 503.6H212.8M211.3 484.0V496.0M198.8 484.0H223.8M198.8 496.0H223.8M222.4 483.6V495.6M209.9 483.6H234.9M209.9 495.6H234.9M233.4 481.4V493.4M220.9 481.4H245.9M220.9 493.4H245.9M244.5 479.3V491.3M232.0 479.3H257.0M232.0 491.3H257.0M255.6 478.0V490.0M243.1 478.0H268.1M243.1 490.0H268.1M266.6 476.0V488.0M254.1 476.0H279.1M254.1 488.0H279.1M277.6 473.0V485.0M265.1 473.0H290.1M265.1 485.0H290.1M288.7 468.7V480.7M276.2 468.7H301.2M276.2 480.7H301.2M299.8 466.6V478.6M287.2 466.6H312.2M287.2 478.6H312.2M310.8 464.4V476.4M298.3 464.4H323.3M298.3 476.4H323.3M321.9 460.2V472.2M309.4 460.2H334.4M309.4 472.2H334.4M332.9 454.9V466.9M320.4 454.9H345.4M320.4 466.9H345.4M343.9 454.9V466.9M331.4 454.9H356.4M331.4 466.9H356.4M355.0 450.6V462.6M342.5 450.6H367.5M342.5 462.6H367.5M366.1 454.9V466.9M353.6 454.9H378.6M353.6 466.9H378.6M377.1 452.7V464.7M364.6 452.7H389.6M364.6 464.7H389.6M388.1 442.0V454.0M375.6 442.0H400.6M375.6 454.0H400.6M399.2 430.4V442.4M386.7 430.4H411.7M386.7 442.4H411.7M410.2 425.2V441.2M397.8 425.2H422.8M397.8 441.2H422.8M421.3 418.8V434.8M408.8 418.8H433.8M408.8 434.8H433.8M432.4 405.0V421.0M419.9 405.0H444.9M419.9 421.0H444.9M443.4 408.2V424.2M430.9 408.2H455.9M430.9 424.2H455.9M454.4 358.3V378.3M441.9 358.3H466.9M441.9 378.3H466.9M465.5 354.0V374.0M453.0 354.0H478.0M453.0 374.0H478.0M476.6 281.8V320.8M464.1 281.8H489.1M464.1 320.8H489.1M487.6 189.6V241.6M475.1 189.6H500.1M475.1 241.6H500.1M498.7 102.9V176.9M486.2 102.9H511.2M486.2 176.9H511.2M509.7 42.8V113.6M497.2 42.8H522.2M497.2 113.6H522.2M520.8 233.0V271.0M508.2 233.0H533.2M508.2 271.0H533.2M531.8 312.0V348.0M519.3 312.0H544.3M519.3 348.0H544.3M542.9 399.8V419.8M530.4 399.8H555.4M530.4 419.8H555.4M553.9 419.0V431.0M541.4 419.0H566.4M541.4 431.0H566.4M565.0 449.0V461.0M552.5 449.0H577.5M552.5 461.0H577.5M576.0 459.0V471.0M563.5 459.0H588.5M563.5 471.0H588.5M587.0 468.0V480.0M574.5 468.0H599.5M574.5 480.0H599.5M598.1 484.0V496.0M585.6 484.0H610.6M585.6 496.0H610.6M609.2 485.7V497.7M596.7 485.7H621.7M596.7 497.7H621.7M620.2 502.7V514.7M607.7 502.7H632.7M607.7 514.7H632.7M631.2 508.0V520.0M618.8 508.0H643.8M618.8 520.0H643.8M642.3 515.0V527.0M629.8 515.0H654.8M629.8 527.0H654.8M653.4 519.0V531.0M640.9 519.0H665.9M640.9 531.0H665.9M664.4 522.0V534.0M651.9 522.0H676.9M651.9 534.0H676.9M675.5 531.4V543.4M663.0 531.4H688.0M663.0 543.4H688.0M686.5 539.0V551.0M674.0 539.0H699.0M674.0 551.0H699.0M697.5 543.0V555.0M685.0 543.0H710.0M685.0 555.0H710.0M708.6 545.3V557.3M696.1 545.3H721.1M696.1 557.3H721.1M719.7 549.5V561.5M707.2 549.5H732.2M707.2 561.5H732.2M730.7 551.7V563.7M718.2 551.7H743.2M718.2 563.7H743.2" stroke-width="2.2"/>
</g>
<path d="M183.2 496.4L172.3 502.3L183.2 508.2Z" fill="none" stroke="#40e0d0" stroke-width="1.8"/>
<path d="M194.3 494.3L183.3 500.2L194.3 506.1Z" fill="none" stroke="#40e0d0" stroke-width="1.8"/>
<path d="M205.3 493.2L194.4 499.1L205.3 505.0Z" fill="none" stroke="#40e0d0" stroke-width="1.8"/>
<path d="M216.4 484.1L205.4 490.0L216.4 495.9Z" fill="none" stroke="#40e0d0" stroke-width="1.8"/>
<path d="M227.4 483.7L216.5 489.6L227.4 495.5Z" fill="none" stroke="#40e0d0" stroke-width="1.8"/>
<path d="M238.5 481.5L227.5 487.4L238.5 493.3Z" fill="none" stroke="#40e0d0" stroke-width="1.8"/>
<path d="M249.5 479.4L238.6 485.3L249.5 491.2Z" fill="none" stroke="#40e0d0" stroke-width="1.8"/>
<path d="M260.6 478.1L249.6 484.0L260.6 489.9Z" fill="none" stroke="#40e0d0" stroke-width="1.8"/>
<path d="M271.6 476.1L260.7 482.0L271.6 487.9Z" fill="none" stroke="#40e0d0" stroke-width="1.8"/>
<path d="M282.7 473.1L271.7 479.0L282.7 484.9Z" fill="none" stroke="#40e0d0" stroke-width="1.8"/>
<path d="M293.7 468.8L282.8 474.7L293.7 480.6Z" fill="none" stroke="#40e0d0" stroke-width="1.8"/>
<path d="M304.8 466.7L293.8 472.6L304.8 478.5Z" fill="none" stroke="#40e0d0" stroke-width="1.8"/>
<path d="M315.8 464.5L304.9 470.4L315.8 476.3Z" fill="none" stroke="#40e0d0" stroke-width="1.8"/>
<path d="M326.9 460.3L315.9 466.2L326.9 472.1Z" fill="none" stroke="#40e0d0" stroke-width="1.8"/>
<path d="M337.9 455.0L327.0 460.9L337.9 466.8Z" fill="none" stroke="#40e0d0" stroke-width="1.8"/>
<path d="M349.0 455.0L338.0 460.9L349.0 466.8Z" fill="none" stroke="#40e0d0" stroke-width="1.8"/>
<path d="M360.0 450.7L349.1 456.6L360.0 462.5Z" fill="none" stroke="#40e0d0" stroke-width="1.8"/>
<path d="M371.1 455.0L360.1 460.9L371.1 466.8Z" fill="none" stroke="#40e0d0" stroke-width="1.8"/>
<path d="M382.1 452.8L371.2 458.7L382.1 464.6Z" fill="none" stroke="#40e0d0" stroke-width="1.8"/>
<path d="M393.2 442.1L382.2 448.0L393.2 453.9Z" fill="none" stroke="#40e0d0" stroke-width="1.8"/>
<path d="M404.2 430.5L393.3 436.4L404.2 442.3Z" fill="none" stroke="#40e0d0" stroke-width="1.8"/>
<path d="M415.3 427.3L404.3 433.2L415.3 439.1Z" fill="none" stroke="#40e0d0" stroke-width="1.8"/>
<path d="M426.3 420.9L415.4 426.8L426.3 432.7Z" fill="none" stroke="#40e0d0" stroke-width="1.8"/>
<path d="M437.4 407.1L426.4 413.0L437.4 418.9Z" fill="none" stroke="#40e0d0" stroke-width="1.8"/>
<path d="M448.4 410.3L437.5 416.2L448.4 422.1Z" fill="none" stroke="#40e0d0" stroke-width="1.8"/>
<path d="M459.5 362.4L448.5 368.3L459.5 374.2Z" fill="none" stroke="#40e0d0" stroke-width="1.8"/>
<path d="M470.5 358.1L459.6 364.0L470.5 369.9Z" fill="none" stroke="#40e0d0" stroke-width="1.8"/>
<path d="M481.6 295.4L470.6 301.3L481.6 307.2Z" fill="none" stroke="#40e0d0" stroke-width="1.8"/>
<path d="M492.6 209.7L481.7 215.6L492.6 221.5Z" fill="none" stroke="#40e0d0" stroke-width="1.8"/>
<path d="M503.7 134.0L492.7 139.9L503.7 145.8Z" fill="none" stroke="#40e0d0" stroke-width="1.8"/>
<path d="M514.7 72.3L503.8 78.2L514.7 84.1Z" fill="none" stroke="#40e0d0" stroke-width="1.8"/>
<path d="M525.8 246.1L514.8 252.0L525.8 257.9Z" fill="none" stroke="#40e0d0" stroke-width="1.8"/>
<path d="M536.8 324.1L525.9 330.0L536.8 335.9Z" fill="none" stroke="#40e0d0" stroke-width="1.8"/>
<path d="M547.9 403.9L536.9 409.8L547.9 415.7Z" fill="none" stroke="#40e0d0" stroke-width="1.8"/>
<path d="M558.9 419.1L548.0 425.0L558.9 430.9Z" fill="none" stroke="#40e0d0" stroke-width="1.8"/>
<path d="M570.0 449.1L559.0 455.0L570.0 460.9Z" fill="none" stroke="#40e0d0" stroke-width="1.8"/>
<path d="M581.0 459.1L570.1 465.0L581.0 470.9Z" fill="none" stroke="#40e0d0" stroke-width="1.8"/>
<path d="M592.1 468.1L581.1 474.0L592.1 479.9Z" fill="none" stroke="#40e0d0" stroke-width="1.8"/>
<path d="M603.1 484.1L592.2 490.0L603.1 495.9Z" fill="none" stroke="#40e0d0" stroke-width="1.8"/>
<path d="M614.2 485.8L603.2 491.7L614.2 497.6Z" fill="none" stroke="#40e0d0" stroke-width="1.8"/>
<path d="M625.2 502.8L614.3 508.7L625.2 514.6Z" fill="none" stroke="#40e0d0" stroke-width="1.8"/>
<path d="M636.3 508.1L625.3 514.0L636.3 519.9Z" fill="none" stroke="#40e0d0" stroke-width="1.8"/>
<path d="M647.3 515.1L636.4 521.0L647.3 526.9Z" fill="none" stroke="#40e0d0" stroke-width="1.8"/>
<path d="M658.4 519.1L647.4 525.0L658.4 530.9Z" fill="none" stroke="#40e0d0" stroke-width="1.8"/>
<path d="M669.4 522.1L658.5 528.0L669.4 533.9Z" fill="none" stroke="#40e0d0" stroke-width="1.8"/>
<path d="M680.5 531.5L669.5 537.4L680.5 543.3Z" fill="none" stroke="#40e0d0" stroke-width="1.8"/>
<path d="M691.5 539.1L680.6 545.0L691.5 550.9Z" fill="none" stroke="#40e0d0" stroke-width="1.8"/>
<path d="M702.6 543.1L691.6 549.0L702.6 554.9Z" fill="none" stroke="#40e0d0" stroke-width="1.8"/>
<path d="M713.6 545.4L702.7 551.3L713.6 557.2Z" fill="none" stroke="#40e0d0" stroke-width="1.8"/>
<path d="M724.7 549.6L713.7 555.5L724.7 561.4Z" fill="none" stroke="#40e0d0" stroke-width="1.8"/>
<path d="M735.7 551.8L724.8 557.7L735.7 563.6Z" fill="none" stroke="#40e0d0" stroke-width="1.8"/>
<g stroke="#bc8f8f" fill="none" stroke-width="2.0" clip-path="url(#ct)">
<polyline points="178.2,489.6 189.2,487.0 200.3,487.0 211.3,486.0 222.4,485.0 233.4,474.7 244.5,470.4 255.6,467.0 266.6,470.0 277.6,458.7 288.7,453.4 299.8,450.2 310.8,436.4 321.9,425.7 332.9,433.2 343.9,417.2 355.0,415.1 366.1,382.1 377.1,360.9 388.1,336.4 399.2,233.5 410.2,153.8 421.3,139.4 432.4,181.9 443.4,199.5 454.4,310.9 465.5,335.3 476.6,382.1 487.6,413.0 498.7,435.3 509.7,452.3 520.8,472.6 531.8,483.0 542.9,490.0 553.9,499.3 565.0,497.5 576.0,514.0 587.0,514.3 598.1,525.5 609.2,531.0 620.2,529.0 631.2,533.0 642.3,540.5 653.4,543.3 664.4,551.8 675.5,555.5 686.5,557.4 697.5,563.0 708.6,566.7 719.7,570.5 730.7,564.0"/>
<path d="M178.2 483.6V495.6M165.7 483.6H190.7M165.7 495.6H190.7M189.2 481.0V493.0M176.8 481.0H201.8M176.8 493.0H201.8M200.3 481.0V493.0M187.8 481.0H212.8M187.8 493.0H212.8M211.3 480.0V492.0M198.8 480.0H223.8M198.8 492.0H223.8M222.4 479.0V491.0M209.9 479.0H234.9M209.9 491.0H234.9M233.4 468.7V480.7M220.9 468.7H245.9M220.9 480.7H245.9M244.5 464.4V476.4M232.0 464.4H257.0M232.0 476.4H257.0M255.6 461.0V473.0M243.1 461.0H268.1M243.1 473.0H268.1M266.6 464.0V476.0M254.1 464.0H279.1M254.1 476.0H279.1M277.6 452.7V464.7M265.1 452.7H290.1M265.1 464.7H290.1M288.7 447.4V459.4M276.2 447.4H301.2M276.2 459.4H301.2M299.8 444.2V456.2M287.2 444.2H312.2M287.2 456.2H312.2M310.8 428.4V444.4M298.3 428.4H323.3M298.3 444.4H323.3M321.9 417.7V433.7M309.4 417.7H334.4M309.4 433.7H334.4M332.9 425.2V441.2M320.4 425.2H345.4M320.4 441.2H345.4M343.9 409.2V425.2M331.4 409.2H356.4M331.4 425.2H356.4M355.0 407.1V423.1M342.5 407.1H367.5M342.5 423.1H367.5M366.1 371.1V393.1M353.6 371.1H378.6M353.6 393.1H378.6M377.1 349.4V372.4M364.6 349.4H389.6M364.6 372.4H389.6M388.1 323.9V348.9M375.6 323.9H400.6M375.6 348.9H400.6M399.2 213.5V253.5M386.7 213.5H411.7M386.7 253.5H411.7M410.2 128.8V178.8M397.8 128.8H422.8M397.8 178.8H422.8M421.3 112.4V166.4M408.8 112.4H433.8M408.8 166.4H433.8M432.4 154.5V209.3M419.9 154.5H444.9M419.9 209.3H444.9M443.4 176.1V222.9M430.9 176.1H455.9M430.9 222.9H455.9M454.4 297.9V323.9M441.9 297.9H466.9M441.9 323.9H466.9M465.5 321.3V349.3M453.0 321.3H478.0M453.0 349.3H478.0M476.6 371.1V393.1M464.1 371.1H489.1M464.1 393.1H489.1M487.6 403.6V422.4M475.1 403.6H500.1M475.1 422.4H500.1M498.7 429.3V441.3M486.2 429.3H511.2M486.2 441.3H511.2M509.7 446.3V458.3M497.2 446.3H522.2M497.2 458.3H522.2M520.8 466.6V478.6M508.2 466.6H533.2M508.2 478.6H533.2M531.8 477.0V489.0M519.3 477.0H544.3M519.3 489.0H544.3M542.9 484.0V496.0M530.4 484.0H555.4M530.4 496.0H555.4M553.9 493.3V505.3M541.4 493.3H566.4M541.4 505.3H566.4M565.0 491.5V503.5M552.5 491.5H577.5M552.5 503.5H577.5M576.0 508.0V520.0M563.5 508.0H588.5M563.5 520.0H588.5M587.0 508.3V520.3M574.5 508.3H599.5M574.5 520.3H599.5M598.1 519.5V531.5M585.6 519.5H610.6M585.6 531.5H610.6M609.2 525.0V537.0M596.7 525.0H621.7M596.7 537.0H621.7M620.2 523.0V535.0M607.7 523.0H632.7M607.7 535.0H632.7M631.2 527.0V539.0M618.8 527.0H643.8M618.8 539.0H643.8M642.3 534.5V546.5M629.8 534.5H654.8M629.8 546.5H654.8M653.4 537.3V549.3M640.9 537.3H665.9M640.9 549.3H665.9M664.4 545.8V557.8M651.9 545.8H676.9M651.9 557.8H676.9M675.5 549.5V561.5M663.0 549.5H688.0M663.0 561.5H688.0M686.5 551.4V563.4M674.0 551.4H699.0M674.0 563.4H699.0M697.5 557.0V569.0M685.0 557.0H710.0M685.0 569.0H710.0M708.6 560.7V572.7M696.1 560.7H721.1M696.1 572.7H721.1M719.7 564.5V576.5M707.2 564.5H732.2M707.2 576.5H732.2M730.7 558.0V570.0M718.2 558.0H743.2M718.2 570.0H743.2" stroke-width="2.2"/>
</g>
<path d="M172.3 484.6L178.2 495.5L184.1 484.6Z" fill="none" stroke="#bc8f8f" stroke-width="1.8"/>
<path d="M183.3 482.0L189.2 492.9L195.2 482.0Z" fill="none" stroke="#bc8f8f" stroke-width="1.8"/>
<path d="M194.4 482.0L200.3 492.9L206.2 482.0Z" fill="none" stroke="#bc8f8f" stroke-width="1.8"/>
<path d="M205.4 481.0L211.3 491.9L217.3 481.0Z" fill="none" stroke="#bc8f8f" stroke-width="1.8"/>
<path d="M216.5 480.0L222.4 490.9L228.3 480.0Z" fill="none" stroke="#bc8f8f" stroke-width="1.8"/>
<path d="M227.5 469.7L233.4 480.6L239.4 469.7Z" fill="none" stroke="#bc8f8f" stroke-width="1.8"/>
<path d="M238.6 465.4L244.5 476.3L250.4 465.4Z" fill="none" stroke="#bc8f8f" stroke-width="1.8"/>
<path d="M249.6 462.0L255.6 472.9L261.5 462.0Z" fill="none" stroke="#bc8f8f" stroke-width="1.8"/>
<path d="M260.7 465.0L266.6 475.9L272.5 465.0Z" fill="none" stroke="#bc8f8f" stroke-width="1.8"/>
<path d="M271.7 453.7L277.6 464.6L283.6 453.7Z" fill="none" stroke="#bc8f8f" stroke-width="1.8"/>
<path d="M282.8 448.4L288.7 459.3L294.6 448.4Z" fill="none" stroke="#bc8f8f" stroke-width="1.8"/>
<path d="M293.8 445.2L299.8 456.1L305.7 445.2Z" fill="none" stroke="#bc8f8f" stroke-width="1.8"/>
<path d="M304.9 431.4L310.8 442.3L316.7 431.4Z" fill="none" stroke="#bc8f8f" stroke-width="1.8"/>
<path d="M315.9 420.7L321.9 431.6L327.8 420.7Z" fill="none" stroke="#bc8f8f" stroke-width="1.8"/>
<path d="M327.0 428.2L332.9 439.1L338.8 428.2Z" fill="none" stroke="#bc8f8f" stroke-width="1.8"/>
<path d="M338.0 412.2L343.9 423.1L349.9 412.2Z" fill="none" stroke="#bc8f8f" stroke-width="1.8"/>
<path d="M349.1 410.1L355.0 421.0L360.9 410.1Z" fill="none" stroke="#bc8f8f" stroke-width="1.8"/>
<path d="M360.1 377.1L366.1 388.0L372.0 377.1Z" fill="none" stroke="#bc8f8f" stroke-width="1.8"/>
<path d="M371.2 355.9L377.1 366.8L383.0 355.9Z" fill="none" stroke="#bc8f8f" stroke-width="1.8"/>
<path d="M382.2 331.4L388.1 342.3L394.1 331.4Z" fill="none" stroke="#bc8f8f" stroke-width="1.8"/>
<path d="M393.3 228.5L399.2 239.4L405.1 228.5Z" fill="none" stroke="#bc8f8f" stroke-width="1.8"/>
<path d="M404.3 148.8L410.2 159.7L416.2 148.8Z" fill="none" stroke="#bc8f8f" stroke-width="1.8"/>
<path d="M415.4 134.4L421.3 145.3L427.2 134.4Z" fill="none" stroke="#bc8f8f" stroke-width="1.8"/>
<path d="M426.4 176.9L432.4 187.8L438.3 176.9Z" fill="none" stroke="#bc8f8f" stroke-width="1.8"/>
<path d="M437.5 194.5L443.4 205.4L449.3 194.5Z" fill="none" stroke="#bc8f8f" stroke-width="1.8"/>
<path d="M448.5 305.9L454.4 316.8L460.4 305.9Z" fill="none" stroke="#bc8f8f" stroke-width="1.8"/>
<path d="M459.6 330.3L465.5 341.2L471.4 330.3Z" fill="none" stroke="#bc8f8f" stroke-width="1.8"/>
<path d="M470.6 377.1L476.6 388.0L482.5 377.1Z" fill="none" stroke="#bc8f8f" stroke-width="1.8"/>
<path d="M481.7 408.0L487.6 418.9L493.5 408.0Z" fill="none" stroke="#bc8f8f" stroke-width="1.8"/>
<path d="M492.7 430.3L498.7 441.2L504.6 430.3Z" fill="none" stroke="#bc8f8f" stroke-width="1.8"/>
<path d="M503.8 447.3L509.7 458.2L515.6 447.3Z" fill="none" stroke="#bc8f8f" stroke-width="1.8"/>
<path d="M514.8 467.6L520.8 478.5L526.7 467.6Z" fill="none" stroke="#bc8f8f" stroke-width="1.8"/>
<path d="M525.9 478.0L531.8 488.9L537.7 478.0Z" fill="none" stroke="#bc8f8f" stroke-width="1.8"/>
<path d="M536.9 485.0L542.9 495.9L548.8 485.0Z" fill="none" stroke="#bc8f8f" stroke-width="1.8"/>
<path d="M548.0 494.3L553.9 505.2L559.8 494.3Z" fill="none" stroke="#bc8f8f" stroke-width="1.8"/>
<path d="M559.0 492.5L565.0 503.4L570.9 492.5Z" fill="none" stroke="#bc8f8f" stroke-width="1.8"/>
<path d="M570.1 509.0L576.0 519.9L581.9 509.0Z" fill="none" stroke="#bc8f8f" stroke-width="1.8"/>
<path d="M581.1 509.3L587.0 520.2L593.0 509.3Z" fill="none" stroke="#bc8f8f" stroke-width="1.8"/>
<path d="M592.2 520.5L598.1 531.4L604.0 520.5Z" fill="none" stroke="#bc8f8f" stroke-width="1.8"/>
<path d="M603.2 526.0L609.2 536.9L615.1 526.0Z" fill="none" stroke="#bc8f8f" stroke-width="1.8"/>
<path d="M614.3 524.0L620.2 534.9L626.1 524.0Z" fill="none" stroke="#bc8f8f" stroke-width="1.8"/>
<path d="M625.3 528.0L631.2 538.9L637.2 528.0Z" fill="none" stroke="#bc8f8f" stroke-width="1.8"/>
<path d="M636.4 535.5L642.3 546.4L648.2 535.5Z" fill="none" stroke="#bc8f8f" stroke-width="1.8"/>
<path d="M647.4 538.3L653.4 549.2L659.3 538.3Z" fill="none" stroke="#bc8f8f" stroke-width="1.8"/>
<path d="M658.5 546.8L664.4 557.7L670.3 546.8Z" fill="none" stroke="#bc8f8f" stroke-width="1.8"/>
<path d="M669.5 550.5L675.5 561.4L681.4 550.5Z" fill="none" stroke="#bc8f8f" stroke-width="1.8"/>
<path d="M680.6 552.4L686.5 563.3L692.4 552.4Z" fill="none" stroke="#bc8f8f" stroke-width="1.8"/>
<path d="M691.6 558.0L697.5 568.9L703.5 558.0Z" fill="none" stroke="#bc8f8f" stroke-width="1.8"/>
<path d="M702.7 561.7L708.6 572.6L714.5 561.7Z" fill="none" stroke="#bc8f8f" stroke-width="1.8"/>
<path d="M713.7 565.5L719.7 576.4L725.6 565.5Z" fill="none" stroke="#bc8f8f" stroke-width="1.8"/>
<path d="M724.8 559.0L730.7 569.9L736.6 559.0Z" fill="none" stroke="#bc8f8f" stroke-width="1.8"/>
<rect x="178.2" y="17.0" width="884.0" height="632.0" fill="none" stroke="#000" stroke-width="2.2"/>
<path d="M178.2 649.0v-25M178.2 17.0v25M399.2 649.0v-25M399.2 17.0v25M620.2 649.0v-25M620.2 17.0v25M841.2 649.0v-25M841.2 17.0v25M1062.2 649.0v-25M1062.2 17.0v25M288.7 649.0v-13M288.7 17.0v13M509.7 649.0v-13M509.7 17.0v13M730.7 649.0v-13M730.7 17.0v13M951.7 649.0v-13M951.7 17.0v13M178.2 633.8h25M1062.2 633.8h-25M178.2 542.8h25M1062.2 542.8h-25M178.2 451.8h25M1062.2 451.8h-25M178.2 360.8h25M1062.2 360.8h-25M178.2 269.8h25M1062.2 269.8h-25M178.2 178.8h25M1062.2 178.8h-25M178.2 87.8h25M1062.2 87.8h-25M178.2 588.3h13M1062.2 588.3h-13M178.2 497.3h13M1062.2 497.3h-13M178.2 406.3h13M1062.2 406.3h-13M178.2 315.3h13M1062.2 315.3h-13M178.2 224.3h13M1062.2 224.3h-13M178.2 133.3h13M1062.2 133.3h-13M178.2 42.3h13M1062.2 42.3h-13" stroke="#000" stroke-width="2" fill="none"/>
<g stroke="#000000" fill="none" stroke-width="2.0" clip-path="url(#cb)">
<polyline points="399.2,1268.4 410.2,1264.6 421.3,1262.0 432.4,1258.1 443.4,1259.5 454.4,1274.2 465.5,1259.8 476.6,1254.6 487.6,1248.4 498.7,1249.6 509.7,1247.6 520.8,1251.0 531.8,1248.0 542.9,1256.8 553.9,1248.4 565.0,1246.5 576.0,1243.3 587.0,1246.9 598.1,1251.3 609.2,1240.6 620.2,1247.4 631.2,1250.8 642.3,1251.0 653.4,1255.5 664.4,1255.7 675.5,1259.1 686.5,1262.4 697.5,1273.0 708.6,1263.9 719.7,1254.1 730.7,1262.4 741.8,1266.8 752.8,1264.7 763.9,1263.7 774.9,1263.6 786.0,1259.1 797.0,1257.8 808.0,1259.6 819.1,1270.0 830.2,1271.8 841.2,1274.7 852.2,1268.7 863.3,1249.9 874.4,1238.6 885.4,1239.6 896.5,1252.1 907.5,1254.7 918.5,1260.3 929.6,1260.0 940.7,1261.5 951.7,1269.2"/>
<path d="M399.2 1259.8V1276.9M386.7 1259.8H411.7M386.7 1276.9H411.7M410.2 1256.1V1273.2M397.8 1256.1H422.8M397.8 1273.2H422.8M421.3 1253.4V1270.5M408.8 1253.4H433.8M408.8 1270.5H433.8M432.4 1249.5V1266.6M419.9 1249.5H444.9M419.9 1266.6H444.9M443.4 1251.0V1268.1M430.9 1251.0H455.9M430.9 1268.1H455.9M454.4 1265.7V1282.8M441.9 1265.7H466.9M441.9 1282.8H466.9M465.5 1251.3V1268.4M453.0 1251.3H478.0M453.0 1268.4H478.0M476.6 1246.1V1263.2M464.1 1246.1H489.1M464.1 1263.2H489.1M487.6 1239.8V1256.9M475.1 1239.8H500.1M475.1 1256.9H500.1M498.7 1241.0V1258.1M486.2 1241.0H511.2M486.2 1258.1H511.2M509.7 1239.1V1256.2M497.2 1239.1H522.2M497.2 1256.2H522.2M520.8 1242.5V1259.6M508.2 1242.5H533.2M508.2 1259.6H533.2M531.8 1239.5V1256.6M519.3 1239.5H544.3M519.3 1256.6H544.3M542.9 1248.2V1265.3M530.4 1248.2H555.4M530.4 1265.3H555.4M553.9 1239.9V1257.0M541.4 1239.9H566.4M541.4 1257.0H566.4M565.0 1238.0V1255.1M552.5 1238.0H577.5M552.5 1255.1H577.5M576.0 1234.8V1251.8M563.5 1234.8H588.5M563.5 1251.8H588.5M587.0 1238.4V1255.5M574.5 1238.4H599.5M574.5 1255.5H599.5M598.1 1242.8V1259.8M585.6 1242.8H610.6M585.6 1259.8H610.6M609.2 1232.0V1249.1M596.7 1232.0H621.7M596.7 1249.1H621.7M620.2 1238.9V1256.0M607.7 1238.9H632.7M607.7 1256.0H632.7M631.2 1242.3V1259.3M618.8 1242.3H643.8M618.8 1259.3H643.8M642.3 1242.5V1259.5M629.8 1242.5H654.8M629.8 1259.5H654.8M653.4 1246.9V1264.0M640.9 1246.9H665.9M640.9 1264.0H665.9M664.4 1247.1V1264.2M651.9 1247.1H676.9M651.9 1264.2H676.9M675.5 1250.5V1267.6M663.0 1250.5H688.0M663.0 1267.6H688.0M686.5 1253.9V1271.0M674.0 1253.9H699.0M674.0 1271.0H699.0M697.5 1264.5V1281.5M685.0 1264.5H710.0M685.0 1281.5H710.0M708.6 1255.4V1272.4M696.1 1255.4H721.1M696.1 1272.4H721.1M719.7 1245.5V1262.6M707.2 1245.5H732.2M707.2 1262.6H732.2M730.7 1253.9V1271.0M718.2 1253.9H743.2M718.2 1271.0H743.2M741.8 1258.2V1275.3M729.2 1258.2H754.2M729.2 1275.3H754.2M752.8 1256.1V1273.2M740.3 1256.1H765.3M740.3 1273.2H765.3M763.9 1255.1V1272.2M751.4 1255.1H776.4M751.4 1272.2H776.4M774.9 1255.1V1272.2M762.4 1255.1H787.4M762.4 1272.2H787.4M786.0 1250.6V1267.7M773.5 1250.6H798.5M773.5 1267.7H798.5M797.0 1249.2V1266.3M784.5 1249.2H809.5M784.5 1266.3H809.5M808.0 1251.0V1268.1M795.5 1251.0H820.5M795.5 1268.1H820.5M819.1 1261.4V1278.5M806.6 1261.4H831.6M806.6 1278.5H831.6M830.2 1263.3V1280.4M817.7 1263.3H842.7M817.7 1280.4H842.7M841.2 1264.0V1285.4M828.7 1264.0H853.7M828.7 1285.4H853.7M852.2 1258.1V1279.4M839.8 1258.1H864.8M839.8 1279.4H864.8M863.3 1239.2V1260.6M850.8 1239.2H875.8M850.8 1260.6H875.8M874.4 1227.9V1249.3M861.9 1227.9H886.9M861.9 1249.3H886.9M885.4 1228.9V1250.2M872.9 1228.9H897.9M872.9 1250.2H897.9M896.5 1241.4V1262.7M884.0 1241.4H909.0M884.0 1262.7H909.0M907.5 1244.0V1265.4M895.0 1244.0H920.0M895.0 1265.4H920.0M918.5 1251.7V1268.8M906.0 1251.7H931.0M906.0 1268.8H931.0M929.6 1251.4V1268.5M917.1 1251.4H942.1M917.1 1268.5H942.1M940.7 1252.9V1270.0M928.2 1252.9H953.2M928.2 1270.0H953.2M951.7 1260.6V1277.7M939.2 1260.6H964.2M939.2 1277.7H964.2" stroke-width="2.2"/>
</g>
<circle cx="399.2" cy="1268.4" r="5.4" fill="none" stroke="#000000" stroke-width="1.8"/>
<circle cx="410.2" cy="1264.6" r="5.4" fill="none" stroke="#000000" stroke-width="1.8"/>
<circle cx="421.3" cy="1262.0" r="5.4" fill="none" stroke="#000000" stroke-width="1.8"/>
<circle cx="432.4" cy="1258.1" r="5.4" fill="none" stroke="#000000" stroke-width="1.8"/>
<circle cx="443.4" cy="1259.5" r="5.4" fill="none" stroke="#000000" stroke-width="1.8"/>
<circle cx="454.4" cy="1274.2" r="5.4" fill="none" stroke="#000000" stroke-width="1.8"/>
<circle cx="465.5" cy="1259.8" r="5.4" fill="none" stroke="#000000" stroke-width="1.8"/>
<circle cx="476.6" cy="1254.6" r="5.4" fill="none" stroke="#000000" stroke-width="1.8"/>
<circle cx="487.6" cy="1248.4" r="5.4" fill="none" stroke="#000000" stroke-width="1.8"/>
<circle cx="498.7" cy="1249.6" r="5.4" fill="none" stroke="#000000" stroke-width="1.8"/>
<circle cx="509.7" cy="1247.6" r="5.4" fill="none" stroke="#000000" stroke-width="1.8"/>
<circle cx="520.8" cy="1251.0" r="5.4" fill="none" stroke="#000000" stroke-width="1.8"/>
<circle cx="531.8" cy="1248.0" r="5.4" fill="none" stroke="#000000" stroke-width="1.8"/>
<circle cx="542.9" cy="1256.8" r="5.4" fill="none" stroke="#000000" stroke-width="1.8"/>
<circle cx="553.9" cy="1248.4" r="5.4" fill="none" stroke="#000000" stroke-width="1.8"/>
<circle cx="565.0" cy="1246.5" r="5.4" fill="none" stroke="#000000" stroke-width="1.8"/>
<circle cx="576.0" cy="1243.3" r="5.4" fill="none" stroke="#000000" stroke-width="1.8"/>
<circle cx="587.0" cy="1246.9" r="5.4" fill="none" stroke="#000000" stroke-width="1.8"/>
<circle cx="598.1" cy="1251.3" r="5.4" fill="none" stroke="#000000" stroke-width="1.8"/>
<circle cx="609.2" cy="1240.6" r="5.4" fill="none" stroke="#000000" stroke-width="1.8"/>
<circle cx="620.2" cy="1247.4" r="5.4" fill="none" stroke="#000000" stroke-width="1.8"/>
<circle cx="631.2" cy="1250.8" r="5.4" fill="none" stroke="#000000" stroke-width="1.8"/>
<circle cx="642.3" cy="1251.0" r="5.4" fill="none" stroke="#000000" stroke-width="1.8"/>
<circle cx="653.4" cy="1255.5" r="5.4" fill="none" stroke="#000000" stroke-width="1.8"/>
<circle cx="664.4" cy="1255.7" r="5.4" fill="none" stroke="#000000" stroke-width="1.8"/>
<circle cx="675.5" cy="1259.1" r="5.4" fill="none" stroke="#000000" stroke-width="1.8"/>
<circle cx="686.5" cy="1262.4" r="5.4" fill="none" stroke="#000000" stroke-width="1.8"/>
<circle cx="697.5" cy="1273.0" r="5.4" fill="none" stroke="#000000" stroke-width="1.8"/>
<circle cx="708.6" cy="1263.9" r="5.4" fill="none" stroke="#000000" stroke-width="1.8"/>
<circle cx="719.7" cy="1254.1" r="5.4" fill="none" stroke="#000000" stroke-width="1.8"/>
<circle cx="730.7" cy="1262.4" r="5.4" fill="none" stroke="#000000" stroke-width="1.8"/>
<circle cx="741.8" cy="1266.8" r="5.4" fill="none" stroke="#000000" stroke-width="1.8"/>
<circle cx="752.8" cy="1264.7" r="5.4" fill="none" stroke="#000000" stroke-width="1.8"/>
<circle cx="763.9" cy="1263.7" r="5.4" fill="none" stroke="#000000" stroke-width="1.8"/>
<circle cx="774.9" cy="1263.6" r="5.4" fill="none" stroke="#000000" stroke-width="1.8"/>
<circle cx="786.0" cy="1259.1" r="5.4" fill="none" stroke="#000000" stroke-width="1.8"/>
<circle cx="797.0" cy="1257.8" r="5.4" fill="none" stroke="#000000" stroke-width="1.8"/>
<circle cx="808.0" cy="1259.6" r="5.4" fill="none" stroke="#000000" stroke-width="1.8"/>
<circle cx="819.1" cy="1270.0" r="5.4" fill="none" stroke="#000000" stroke-width="1.8"/>
<circle cx="830.2" cy="1271.8" r="5.4" fill="none" stroke="#000000" stroke-width="1.8"/>
<circle cx="841.2" cy="1274.7" r="5.4" fill="none" stroke="#000000" stroke-width="1.8"/>
<circle cx="852.2" cy="1268.7" r="5.4" fill="none" stroke="#000000" stroke-width="1.8"/>
<circle cx="863.3" cy="1249.9" r="5.4" fill="none" stroke="#000000" stroke-width="1.8"/>
<circle cx="874.4" cy="1238.6" r="5.4" fill="none" stroke="#000000" stroke-width="1.8"/>
<circle cx="885.4" cy="1239.6" r="5.4" fill="none" stroke="#000000" stroke-width="1.8"/>
<circle cx="896.5" cy="1252.1" r="5.4" fill="none" stroke="#000000" stroke-width="1.8"/>
<circle cx="907.5" cy="1254.7" r="5.4" fill="none" stroke="#000000" stroke-width="1.8"/>
<circle cx="918.5" cy="1260.3" r="5.4" fill="none" stroke="#000000" stroke-width="1.8"/>
<circle cx="929.6" cy="1260.0" r="5.4" fill="none" stroke="#000000" stroke-width="1.8"/>
<circle cx="940.7" cy="1261.5" r="5.4" fill="none" stroke="#000000" stroke-width="1.8"/>
<circle cx="951.7" cy="1269.2" r="5.4" fill="none" stroke="#000000" stroke-width="1.8"/>
<g stroke="#ff0000" fill="none" stroke-width="2.0" clip-path="url(#cb)">
<polyline points="399.2,1267.3 410.2,1267.3 421.3,1266.2 432.4,1264.5 443.4,1266.0 454.4,1267.2 465.5,1265.8 476.6,1264.3 487.6,1260.1 498.7,1257.1 509.7,1258.3 520.8,1258.5 531.8,1257.6 542.9,1256.8 553.9,1261.3 565.0,1260.4 576.0,1259.5 587.0,1260.8 598.1,1262.0 609.2,1260.0 620.2,1258.1 631.2,1256.1 642.3,1257.4 653.4,1257.6 664.4,1255.7 675.5,1253.7 686.5,1261.4 697.5,1261.6 708.6,1261.8 719.7,1268.0 730.7,1256.0 741.8,1250.7 752.8,1245.5 763.9,1228.9 774.9,1158.5 786.0,1131.2 797.0,1259.0 808.0,1272.4 819.1,1273.2 830.2,1279.3 841.2,1283.3 852.2,1288.0 863.3,1287.8 874.4,1285.6 885.4,1281.2 896.5,1279.0 907.5,1280.7 918.5,1278.3 929.6,1274.0 940.7,1273.5 951.7,1275.3"/>
<path d="M399.2 1260.9V1273.7M386.7 1260.9H411.7M386.7 1273.7H411.7M410.2 1260.9V1273.7M397.8 1260.9H422.8M397.8 1273.7H422.8M421.3 1259.8V1272.6M408.8 1259.8H433.8M408.8 1272.6H433.8M432.4 1258.1V1270.9M419.9 1258.1H444.9M419.9 1270.9H444.9M443.4 1259.5V1272.4M430.9 1259.5H455.9M430.9 1272.4H455.9M454.4 1260.8V1273.6M441.9 1260.8H466.9M441.9 1273.6H466.9M465.5 1259.4V1272.2M453.0 1259.4H478.0M453.0 1272.2H478.0M476.6 1257.8V1270.7M464.1 1257.8H489.1M464.1 1270.7H489.1M487.6 1253.7V1266.5M475.1 1253.7H500.1M475.1 1266.5H500.1M498.7 1250.7V1263.5M486.2 1250.7H511.2M486.2 1263.5H511.2M509.7 1251.9V1264.7M497.2 1251.9H522.2M497.2 1264.7H522.2M520.8 1252.1V1264.9M508.2 1252.1H533.2M508.2 1264.9H533.2M531.8 1251.2V1264.0M519.3 1251.2H544.3M519.3 1264.0H544.3M542.9 1250.4V1263.2M530.4 1250.4H555.4M530.4 1263.2H555.4M553.9 1254.8V1267.7M541.4 1254.8H566.4M541.4 1267.7H566.4M565.0 1254.0V1266.8M552.5 1254.0H577.5M552.5 1266.8H577.5M576.0 1253.1V1265.9M563.5 1253.1H588.5M563.5 1265.9H588.5M587.0 1254.4V1267.2M574.5 1254.4H599.5M574.5 1267.2H599.5M598.1 1255.6V1268.4M585.6 1255.6H610.6M585.6 1268.4H610.6M609.2 1253.6V1266.4M596.7 1253.6H621.7M596.7 1266.4H621.7M620.2 1251.7V1264.5M607.7 1251.7H632.7M607.7 1264.5H632.7M631.2 1249.7V1262.6M618.8 1249.7H643.8M618.8 1262.6H643.8M642.3 1251.0V1263.8M629.8 1251.0H654.8M629.8 1263.8H654.8M653.4 1251.2V1264.0M640.9 1251.2H665.9M640.9 1264.0H665.9M664.4 1249.2V1262.1M651.9 1249.2H676.9M651.9 1262.1H676.9M675.5 1247.3V1260.1M663.0 1247.3H688.0M663.0 1260.1H688.0M686.5 1255.0V1267.8M674.0 1255.0H699.0M674.0 1267.8H699.0M697.5 1255.2V1268.0M685.0 1255.2H710.0M685.0 1268.0H710.0M708.6 1255.4V1268.2M696.1 1255.4H721.1M696.1 1268.2H721.1M719.7 1261.6V1274.4M707.2 1261.6H732.2M707.2 1274.4H732.2M730.7 1249.6V1262.4M718.2 1249.6H743.2M718.2 1262.4H743.2M741.8 1244.3V1257.2M729.2 1244.3H754.2M729.2 1257.2H754.2M752.8 1239.1V1251.9M740.3 1239.1H765.3M740.3 1251.9H765.3M763.9 1217.5V1240.2M751.4 1217.5H776.4M751.4 1240.2H776.4M774.9 1140.9V1176.2M762.4 1140.9H787.4M762.4 1176.2H787.4M786.0 1108.2V1154.1M773.5 1108.2H798.5M773.5 1154.1H798.5M797.0 1250.2V1267.9M784.5 1250.2H809.5M784.5 1267.9H809.5M808.0 1266.0V1278.8M795.5 1266.0H820.5M795.5 1278.8H820.5M819.1 1266.8V1279.6M806.6 1266.8H831.6M806.6 1279.6H831.6M830.2 1272.9V1285.7M817.7 1272.9H842.7M817.7 1285.7H842.7M841.2 1276.9V1289.7M828.7 1276.9H853.7M828.7 1289.7H853.7M852.2 1281.5V1294.4M839.8 1281.5H864.8M839.8 1294.4H864.8M863.3 1281.4V1294.2M850.8 1281.4H875.8M850.8 1294.2H875.8M874.4 1279.2V1292.0M861.9 1279.2H886.9M861.9 1292.0H886.9M885.4 1274.8V1287.6M872.9 1274.8H897.9M872.9 1287.6H897.9M896.5 1272.6V1285.4M884.0 1272.6H909.0M884.0 1285.4H909.0M907.5 1274.3V1287.1M895.0 1274.3H920.0M895.0 1287.1H920.0M918.5 1271.9V1284.7M906.0 1271.9H931.0M906.0 1284.7H931.0M929.6 1267.6V1280.4M917.1 1267.6H942.1M917.1 1280.4H942.1M940.7 1267.1V1280.0M928.2 1267.1H953.2M928.2 1280.0H953.2M951.7 1268.9V1281.7M939.2 1268.9H964.2M939.2 1281.7H964.2" stroke-width="2.2"/>
</g>
<rect x="394.2" y="1262.3" width="10.0" height="10.0" fill="none" stroke="#ff0000" stroke-width="1.8"/>
<rect x="405.2" y="1262.3" width="10.0" height="10.0" fill="none" stroke="#ff0000" stroke-width="1.8"/>
<rect x="416.3" y="1261.2" width="10.0" height="10.0" fill="none" stroke="#ff0000" stroke-width="1.8"/>
<rect x="427.3" y="1259.5" width="10.0" height="10.0" fill="none" stroke="#ff0000" stroke-width="1.8"/>
<rect x="438.4" y="1260.9" width="10.0" height="10.0" fill="none" stroke="#ff0000" stroke-width="1.8"/>
<rect x="449.4" y="1262.1" width="10.0" height="10.0" fill="none" stroke="#ff0000" stroke-width="1.8"/>
<rect x="460.5" y="1260.8" width="10.0" height="10.0" fill="none" stroke="#ff0000" stroke-width="1.8"/>
<rect x="471.5" y="1259.2" width="10.0" height="10.0" fill="none" stroke="#ff0000" stroke-width="1.8"/>
<rect x="482.6" y="1255.1" width="10.0" height="10.0" fill="none" stroke="#ff0000" stroke-width="1.8"/>
<rect x="493.6" y="1252.0" width="10.0" height="10.0" fill="none" stroke="#ff0000" stroke-width="1.8"/>
<rect x="504.7" y="1253.3" width="10.0" height="10.0" fill="none" stroke="#ff0000" stroke-width="1.8"/>
<rect x="515.7" y="1253.5" width="10.0" height="10.0" fill="none" stroke="#ff0000" stroke-width="1.8"/>
<rect x="526.8" y="1252.6" width="10.0" height="10.0" fill="none" stroke="#ff0000" stroke-width="1.8"/>
<rect x="537.8" y="1251.8" width="10.0" height="10.0" fill="none" stroke="#ff0000" stroke-width="1.8"/>
<rect x="548.9" y="1256.2" width="10.0" height="10.0" fill="none" stroke="#ff0000" stroke-width="1.8"/>
<rect x="559.9" y="1255.4" width="10.0" height="10.0" fill="none" stroke="#ff0000" stroke-width="1.8"/>
<rect x="571.0" y="1254.5" width="10.0" height="10.0" fill="none" stroke="#ff0000" stroke-width="1.8"/>
<rect x="582.0" y="1255.8" width="10.0" height="10.0" fill="none" stroke="#ff0000" stroke-width="1.8"/>
<rect x="593.1" y="1257.0" width="10.0" height="10.0" fill="none" stroke="#ff0000" stroke-width="1.8"/>
<rect x="604.1" y="1255.0" width="10.0" height="10.0" fill="none" stroke="#ff0000" stroke-width="1.8"/>
<rect x="615.2" y="1253.1" width="10.0" height="10.0" fill="none" stroke="#ff0000" stroke-width="1.8"/>
<rect x="626.2" y="1251.1" width="10.0" height="10.0" fill="none" stroke="#ff0000" stroke-width="1.8"/>
<rect x="637.3" y="1252.4" width="10.0" height="10.0" fill="none" stroke="#ff0000" stroke-width="1.8"/>
<rect x="648.3" y="1252.6" width="10.0" height="10.0" fill="none" stroke="#ff0000" stroke-width="1.8"/>
<rect x="659.4" y="1250.6" width="10.0" height="10.0" fill="none" stroke="#ff0000" stroke-width="1.8"/>
<rect x="670.4" y="1248.7" width="10.0" height="10.0" fill="none" stroke="#ff0000" stroke-width="1.8"/>
<rect x="681.5" y="1256.4" width="10.0" height="10.0" fill="none" stroke="#ff0000" stroke-width="1.8"/>
<rect x="692.5" y="1256.5" width="10.0" height="10.0" fill="none" stroke="#ff0000" stroke-width="1.8"/>
<rect x="703.6" y="1256.7" width="10.0" height="10.0" fill="none" stroke="#ff0000" stroke-width="1.8"/>
<rect x="714.6" y="1263.0" width="10.0" height="10.0" fill="none" stroke="#ff0000" stroke-width="1.8"/>
<rect x="725.7" y="1251.0" width="10.0" height="10.0" fill="none" stroke="#ff0000" stroke-width="1.8"/>
<rect x="736.7" y="1245.7" width="10.0" height="10.0" fill="none" stroke="#ff0000" stroke-width="1.8"/>
<rect x="747.8" y="1240.4" width="10.0" height="10.0" fill="none" stroke="#ff0000" stroke-width="1.8"/>
<rect x="758.8" y="1223.8" width="10.0" height="10.0" fill="none" stroke="#ff0000" stroke-width="1.8"/>
<rect x="769.9" y="1153.5" width="10.0" height="10.0" fill="none" stroke="#ff0000" stroke-width="1.8"/>
<rect x="780.9" y="1126.1" width="10.0" height="10.0" fill="none" stroke="#ff0000" stroke-width="1.8"/>
<rect x="792.0" y="1254.0" width="10.0" height="10.0" fill="none" stroke="#ff0000" stroke-width="1.8"/>
<rect x="803.0" y="1267.4" width="10.0" height="10.0" fill="none" stroke="#ff0000" stroke-width="1.8"/>
<rect x="814.1" y="1268.2" width="10.0" height="10.0" fill="none" stroke="#ff0000" stroke-width="1.8"/>
<rect x="825.1" y="1274.3" width="10.0" height="10.0" fill="none" stroke="#ff0000" stroke-width="1.8"/>
<rect x="836.2" y="1278.2" width="10.0" height="10.0" fill="none" stroke="#ff0000" stroke-width="1.8"/>
<rect x="847.2" y="1282.9" width="10.0" height="10.0" fill="none" stroke="#ff0000" stroke-width="1.8"/>
<rect x="858.3" y="1282.8" width="10.0" height="10.0" fill="none" stroke="#ff0000" stroke-width="1.8"/>
<rect x="869.3" y="1280.6" width="10.0" height="10.0" fill="none" stroke="#ff0000" stroke-width="1.8"/>
<rect x="880.4" y="1276.2" width="10.0" height="10.0" fill="none" stroke="#ff0000" stroke-width="1.8"/>
<rect x="891.4" y="1273.9" width="10.0" height="10.0" fill="none" stroke="#ff0000" stroke-width="1.8"/>
<rect x="902.5" y="1275.7" width="10.0" height="10.0" fill="none" stroke="#ff0000" stroke-width="1.8"/>
<rect x="913.5" y="1273.3" width="10.0" height="10.0" fill="none" stroke="#ff0000" stroke-width="1.8"/>
<rect x="924.6" y="1268.9" width="10.0" height="10.0" fill="none" stroke="#ff0000" stroke-width="1.8"/>
<rect x="935.6" y="1268.5" width="10.0" height="10.0" fill="none" stroke="#ff0000" stroke-width="1.8"/>
<rect x="946.7" y="1270.2" width="10.0" height="10.0" fill="none" stroke="#ff0000" stroke-width="1.8"/>
<g stroke="#00ff00" fill="none" stroke-width="2.0" clip-path="url(#cb)">
<polyline points="288.7,1258.5 299.8,1259.4 310.8,1260.3 321.9,1259.0 332.9,1258.6 343.9,1257.1 355.0,1258.1 366.1,1268.8 377.1,1267.9 388.1,1260.7 399.2,1259.8 410.2,1263.6 421.3,1267.3 432.4,1261.9 443.4,1261.7 454.4,1262.9 465.5,1248.1 476.6,1252.5 487.6,1248.4 498.7,1250.7 509.7,1251.9 520.8,1250.0 531.8,1250.2 542.9,1251.4 553.9,1236.3 565.0,1261.0 576.0,1248.9 587.0,1236.9 598.1,1251.3 609.2,1266.8 620.2,1232.0 631.2,1239.9 642.3,1232.8 653.4,1245.8 664.4,1236.7 675.5,1216.6 686.5,1212.5 697.5,1163.9 708.6,947.9 719.7,1172.2 730.7,1204.0 741.8,1266.8 752.8,1271.7 763.9,1285.7 774.9,1286.4 786.0,1300.7 797.0,1296.2 808.0,1302.9 819.1,1300.6 830.2,1297.1 841.2,1296.1"/>
<path d="M288.7 1251.6V1265.5M276.2 1251.6H301.2M276.2 1265.5H301.2M299.8 1252.5V1266.4M287.2 1252.5H312.2M287.2 1266.4H312.2M310.8 1253.4V1267.2M298.3 1253.4H323.3M298.3 1267.2H323.3M321.9 1252.1V1266.0M309.4 1252.1H334.4M309.4 1266.0H334.4M332.9 1251.7V1265.5M320.4 1251.7H345.4M320.4 1265.5H345.4M343.9 1250.2V1264.0M331.4 1250.2H356.4M331.4 1264.0H356.4M355.0 1251.2V1265.1M342.5 1251.2H367.5M342.5 1265.1H367.5M366.1 1261.8V1275.7M353.6 1261.8H378.6M353.6 1275.7H378.6M377.1 1261.0V1274.9M364.6 1261.0H389.6M364.6 1274.9H389.6M388.1 1253.7V1267.6M375.6 1253.7H400.6M375.6 1267.6H400.6M399.2 1252.9V1266.8M386.7 1252.9H411.7M386.7 1266.8H411.7M410.2 1256.6V1270.5M397.8 1256.6H422.8M397.8 1270.5H422.8M421.3 1260.4V1274.3M408.8 1260.4H433.8M408.8 1274.3H433.8M432.4 1255.0V1268.9M419.9 1255.0H444.9M419.9 1268.9H444.9M443.4 1254.7V1268.6M430.9 1254.7H455.9M430.9 1268.6H455.9M454.4 1256.0V1269.8M441.9 1256.0H466.9M441.9 1269.8H466.9M465.5 1241.1V1255.0M453.0 1241.1H478.0M453.0 1255.0H478.0M476.6 1245.6V1259.4M464.1 1245.6H489.1M464.1 1259.4H489.1M487.6 1241.4V1255.3M475.1 1241.4H500.1M475.1 1255.3H500.1M498.7 1243.7V1257.6M486.2 1243.7H511.2M486.2 1257.6H511.2M509.7 1244.9V1258.8M497.2 1244.9H522.2M497.2 1258.8H522.2M520.8 1243.0V1256.9M508.2 1243.0H533.2M508.2 1256.9H533.2M531.8 1243.2V1257.1M519.3 1243.2H544.3M519.3 1257.1H544.3M542.9 1244.5V1258.4M530.4 1244.5H555.4M530.4 1258.4H555.4M553.9 1229.3V1243.2M541.4 1229.3H566.4M541.4 1243.2H566.4M565.0 1254.1V1268.0M552.5 1254.1H577.5M552.5 1268.0H577.5M576.0 1241.9V1255.8M563.5 1241.9H588.5M563.5 1255.8H588.5M587.0 1229.9V1243.8M574.5 1229.9H599.5M574.5 1243.8H599.5M598.1 1244.4V1258.2M585.6 1244.4H610.6M585.6 1258.2H610.6M609.2 1259.8V1273.7M596.7 1259.8H621.7M596.7 1273.7H621.7M620.2 1225.1V1239.0M607.7 1225.1H632.7M607.7 1239.0H632.7M631.2 1233.0V1246.9M618.8 1233.0H643.8M618.8 1246.9H643.8M642.3 1225.9V1239.8M629.8 1225.9H654.8M629.8 1239.8H654.8M653.4 1238.9V1252.8M640.9 1238.9H665.9M640.9 1252.8H665.9M664.4 1229.8V1243.7M651.9 1229.8H676.9M651.9 1243.7H676.9M675.5 1208.1V1225.2M663.0 1208.1H688.0M663.0 1225.2H688.0M686.5 1196.8V1228.2M674.0 1196.8H699.0M674.0 1228.2H699.0M697.5 1145.8V1182.1M685.0 1145.8H710.0M685.0 1182.1H710.0M708.6 909.0V986.9M696.1 909.0H721.1M696.1 986.9H721.1M719.7 1151.9V1192.5M707.2 1151.9H732.2M707.2 1192.5H732.2M730.7 1190.1V1217.9M718.2 1190.1H743.2M718.2 1217.9H743.2M741.8 1259.8V1273.7M729.2 1259.8H754.2M729.2 1273.7H754.2M752.8 1264.8V1278.7M740.3 1264.8H765.3M740.3 1278.7H765.3M763.9 1278.7V1292.6M751.4 1278.7H776.4M751.4 1292.6H776.4M774.9 1279.5V1293.3M762.4 1279.5H787.4M762.4 1293.3H787.4M786.0 1293.7V1307.6M773.5 1293.7H798.5M773.5 1307.6H798.5M797.0 1289.3V1303.1M784.5 1289.3H809.5M784.5 1303.1H809.5M808.0 1295.9V1309.8M795.5 1295.9H820.5M795.5 1309.8H820.5M819.1 1293.7V1307.6M806.6 1293.7H831.6M806.6 1307.6H831.6M830.2 1290.2V1304.1M817.7 1290.2H842.7M817.7 1304.1H842.7M841.2 1289.1V1303.0M828.7 1289.1H853.7M828.7 1303.0H853.7" stroke-width="2.2"/>
</g>
<path d="M282.8 1258.5L288.7 1252.6L294.6 1258.5L288.7 1264.5Z" fill="none" stroke="#00ff00" stroke-width="1.8"/>
<path d="M293.8 1259.4L299.8 1253.5L305.7 1259.4L299.8 1265.4Z" fill="none" stroke="#00ff00" stroke-width="1.8"/>
<path d="M304.9 1260.3L310.8 1254.4L316.7 1260.3L310.8 1266.2Z" fill="none" stroke="#00ff00" stroke-width="1.8"/>
<path d="M315.9 1259.0L321.9 1253.1L327.8 1259.0L321.9 1265.0Z" fill="none" stroke="#00ff00" stroke-width="1.8"/>
<path d="M327.0 1258.6L332.9 1252.7L338.8 1258.6L332.9 1264.5Z" fill="none" stroke="#00ff00" stroke-width="1.8"/>
<path d="M338.0 1257.1L343.9 1251.2L349.9 1257.1L343.9 1263.0Z" fill="none" stroke="#00ff00" stroke-width="1.8"/>
<path d="M349.1 1258.1L355.0 1252.2L360.9 1258.1L355.0 1264.1Z" fill="none" stroke="#00ff00" stroke-width="1.8"/>
<path d="M360.1 1268.8L366.1 1262.8L372.0 1268.8L366.1 1274.7Z" fill="none" stroke="#00ff00" stroke-width="1.8"/>
<path d="M371.2 1267.9L377.1 1262.0L383.0 1267.9L377.1 1273.9Z" fill="none" stroke="#00ff00" stroke-width="1.8"/>
<path d="M382.2 1260.7L388.1 1254.7L394.1 1260.7L388.1 1266.6Z" fill="none" stroke="#00ff00" stroke-width="1.8"/>
<path d="M393.3 1259.8L399.2 1253.9L405.1 1259.8L399.2 1265.8Z" fill="none" stroke="#00ff00" stroke-width="1.8"/>
<path d="M404.3 1263.6L410.2 1257.6L416.2 1263.6L410.2 1269.5Z" fill="none" stroke="#00ff00" stroke-width="1.8"/>
<path d="M415.4 1267.3L421.3 1261.4L427.2 1267.3L421.3 1273.2Z" fill="none" stroke="#00ff00" stroke-width="1.8"/>
<path d="M426.4 1261.9L432.4 1256.0L438.3 1261.9L432.4 1267.9Z" fill="none" stroke="#00ff00" stroke-width="1.8"/>
<path d="M437.5 1261.7L443.4 1255.7L449.3 1261.7L443.4 1267.6Z" fill="none" stroke="#00ff00" stroke-width="1.8"/>
<path d="M448.5 1262.9L454.4 1257.0L460.4 1262.9L454.4 1268.8Z" fill="none" stroke="#00ff00" stroke-width="1.8"/>
<path d="M459.6 1248.1L465.5 1242.1L471.4 1248.1L465.5 1254.0Z" fill="none" stroke="#00ff00" stroke-width="1.8"/>
<path d="M470.6 1252.5L476.6 1246.6L482.5 1252.5L476.6 1258.4Z" fill="none" stroke="#00ff00" stroke-width="1.8"/>
<path d="M481.7 1248.4L487.6 1242.4L493.5 1248.4L487.6 1254.3Z" fill="none" stroke="#00ff00" stroke-width="1.8"/>
<path d="M492.7 1250.7L498.7 1244.7L504.6 1250.7L498.7 1256.6Z" fill="none" stroke="#00ff00" stroke-width="1.8"/>
<path d="M503.8 1251.9L509.7 1245.9L515.6 1251.9L509.7 1257.8Z" fill="none" stroke="#00ff00" stroke-width="1.8"/>
<path d="M514.8 1250.0L520.8 1244.0L526.7 1250.0L520.8 1255.9Z" fill="none" stroke="#00ff00" stroke-width="1.8"/>
<path d="M525.9 1250.2L531.8 1244.2L537.7 1250.2L531.8 1256.1Z" fill="none" stroke="#00ff00" stroke-width="1.8"/>
<path d="M536.9 1251.4L542.9 1245.5L548.8 1251.4L542.9 1257.4Z" fill="none" stroke="#00ff00" stroke-width="1.8"/>
<path d="M548.0 1236.3L553.9 1230.3L559.8 1236.3L553.9 1242.2Z" fill="none" stroke="#00ff00" stroke-width="1.8"/>
<path d="M559.0 1261.0L565.0 1255.1L570.9 1261.0L565.0 1267.0Z" fill="none" stroke="#00ff00" stroke-width="1.8"/>
<path d="M570.1 1248.9L576.0 1242.9L581.9 1248.9L576.0 1254.8Z" fill="none" stroke="#00ff00" stroke-width="1.8"/>
<path d="M581.1 1236.9L587.0 1230.9L593.0 1236.9L587.0 1242.8Z" fill="none" stroke="#00ff00" stroke-width="1.8"/>
<path d="M592.2 1251.3L598.1 1245.4L604.0 1251.3L598.1 1257.2Z" fill="none" stroke="#00ff00" stroke-width="1.8"/>
<path d="M603.2 1266.8L609.2 1260.8L615.1 1266.8L609.2 1272.7Z" fill="none" stroke="#00ff00" stroke-width="1.8"/>
<path d="M614.3 1232.0L620.2 1226.1L626.1 1232.0L620.2 1238.0Z" fill="none" stroke="#00ff00" stroke-width="1.8"/>
<path d="M625.3 1239.9L631.2 1234.0L637.2 1239.9L631.2 1245.8Z" fill="none" stroke="#00ff00" stroke-width="1.8"/>
<path d="M636.4 1232.8L642.3 1226.9L648.2 1232.8L642.3 1238.8Z" fill="none" stroke="#00ff00" stroke-width="1.8"/>
<path d="M647.4 1245.8L653.4 1239.9L659.3 1245.8L653.4 1251.8Z" fill="none" stroke="#00ff00" stroke-width="1.8"/>
<path d="M658.5 1236.7L664.4 1230.8L670.3 1236.7L664.4 1242.7Z" fill="none" stroke="#00ff00" stroke-width="1.8"/>
<path d="M669.5 1216.6L675.5 1210.7L681.4 1216.6L675.5 1222.6Z" fill="none" stroke="#00ff00" stroke-width="1.8"/>
<path d="M680.6 1212.5L686.5 1206.5L692.4 1212.5L686.5 1218.4Z" fill="none" stroke="#00ff00" stroke-width="1.8"/>
<path d="M691.6 1163.9L697.5 1158.0L703.5 1163.9L697.5 1169.9Z" fill="none" stroke="#00ff00" stroke-width="1.8"/>
<path d="M702.7 947.9L708.6 942.0L714.5 947.9L708.6 953.9Z" fill="none" stroke="#00ff00" stroke-width="1.8"/>
<path d="M713.7 1172.2L719.7 1166.2L725.6 1172.2L719.7 1178.1Z" fill="none" stroke="#00ff00" stroke-width="1.8"/>
<path d="M724.8 1204.0L730.7 1198.1L736.6 1204.0L730.7 1209.9Z" fill="none" stroke="#00ff00" stroke-width="1.8"/>
<path d="M735.8 1266.8L741.8 1260.8L747.7 1266.8L741.8 1272.7Z" fill="none" stroke="#00ff00" stroke-width="1.8"/>
<path d="M746.9 1271.7L752.8 1265.8L758.7 1271.7L752.8 1277.7Z" fill="none" stroke="#00ff00" stroke-width="1.8"/>
<path d="M757.9 1285.7L763.9 1279.7L769.8 1285.7L763.9 1291.6Z" fill="none" stroke="#00ff00" stroke-width="1.8"/>
<path d="M769.0 1286.4L774.9 1280.5L780.8 1286.4L774.9 1292.3Z" fill="none" stroke="#00ff00" stroke-width="1.8"/>
<path d="M780.0 1300.7L786.0 1294.7L791.9 1300.7L786.0 1306.6Z" fill="none" stroke="#00ff00" stroke-width="1.8"/>
<path d="M791.1 1296.2L797.0 1290.3L802.9 1296.2L797.0 1302.1Z" fill="none" stroke="#00ff00" stroke-width="1.8"/>
<path d="M802.1 1302.9L808.0 1296.9L814.0 1302.9L808.0 1308.8Z" fill="none" stroke="#00ff00" stroke-width="1.8"/>
<path d="M813.2 1300.6L819.1 1294.7L825.0 1300.6L819.1 1306.6Z" fill="none" stroke="#00ff00" stroke-width="1.8"/>
<path d="M824.2 1297.1L830.2 1291.2L836.1 1297.1L830.2 1303.1Z" fill="none" stroke="#00ff00" stroke-width="1.8"/>
<path d="M835.3 1296.1L841.2 1290.1L847.1 1296.1L841.2 1302.0Z" fill="none" stroke="#00ff00" stroke-width="1.8"/>
<g stroke="#0000ff" fill="none" stroke-width="2.0" clip-path="url(#cb)">
<polyline points="288.7,1250.4 299.8,1252.4 310.8,1254.3 321.9,1259.7 332.9,1244.4 343.9,1244.9 355.0,1254.9 366.1,1254.7 377.1,1250.3 388.1,1236.8 399.2,1238.1 410.2,1248.6 421.3,1249.1 432.4,1242.6 443.4,1244.1 454.4,1246.4 465.5,1224.9 476.6,1235.2 487.6,1219.4 498.7,1226.3 509.7,1220.9 520.8,1221.1 531.8,1223.5 542.9,1180.4 553.9,1199.9 565.0,1158.1 576.0,1125.4 587.0,938.1 598.1,969.3 609.2,1109.0 620.2,1209.2 631.2,1226.7 642.3,1252.1 653.4,1265.1 664.4,1294.7 675.5,1292.8 686.5,1290.9 697.5,1313.9 708.6,1312.0 719.7,1328.9 730.7,1316.5 741.8,1312.3 752.8,1317.0 763.9,1311.8 774.9,1318.2 786.0,1326.8 797.0,1321.8 808.0,1317.3 819.1,1312.7 830.2,1308.1 841.2,1309.7"/>
<path d="M288.7 1244.0V1256.8M276.2 1244.0H301.2M276.2 1256.8H301.2M299.8 1246.0V1258.8M287.2 1246.0H312.2M287.2 1258.8H312.2M310.8 1247.9V1260.7M298.3 1247.9H323.3M298.3 1260.7H323.3M321.9 1253.3V1266.1M309.4 1253.3H334.4M309.4 1266.1H334.4M332.9 1238.0V1250.8M320.4 1238.0H345.4M320.4 1250.8H345.4M343.9 1238.5V1251.3M331.4 1238.5H356.4M331.4 1251.3H356.4M355.0 1248.5V1261.3M342.5 1248.5H367.5M342.5 1261.3H367.5M366.1 1248.2V1261.1M353.6 1248.2H378.6M353.6 1261.1H378.6M377.1 1243.9V1256.7M364.6 1243.9H389.6M364.6 1256.7H389.6M388.1 1230.4V1243.3M375.6 1230.4H400.6M375.6 1243.3H400.6M399.2 1231.7V1244.6M386.7 1231.7H411.7M386.7 1244.6H411.7M410.2 1242.2V1255.0M397.8 1242.2H422.8M397.8 1255.0H422.8M421.3 1242.7V1255.6M408.8 1242.7H433.8M408.8 1255.6H433.8M432.4 1236.2V1249.0M419.9 1236.2H444.9M419.9 1249.0H444.9M443.4 1237.6V1250.5M430.9 1237.6H455.9M430.9 1250.5H455.9M454.4 1240.0V1252.9M441.9 1240.0H466.9M441.9 1252.9H466.9M465.5 1218.5V1231.3M453.0 1218.5H478.0M453.0 1231.3H478.0M476.6 1228.8V1241.6M464.1 1228.8H489.1M464.1 1241.6H489.1M487.6 1213.0V1225.8M475.1 1213.0H500.1M475.1 1225.8H500.1M498.7 1219.9V1232.7M486.2 1219.9H511.2M486.2 1232.7H511.2M509.7 1214.5V1227.3M497.2 1214.5H522.2M497.2 1227.3H522.2M520.8 1214.7V1227.5M508.2 1214.7H533.2M508.2 1227.5H533.2M531.8 1217.0V1229.9M519.3 1217.0H544.3M519.3 1229.9H544.3M542.9 1170.8V1190.0M530.4 1170.8H555.4M530.4 1190.0H555.4M553.9 1190.3V1209.6M541.4 1190.3H566.4M541.4 1209.6H566.4M565.0 1143.1V1173.0M552.5 1143.1H577.5M552.5 1173.0H577.5M576.0 1105.5V1145.2M563.5 1105.5H588.5M563.5 1145.2H588.5M587.0 904.0V972.3M574.5 904.0H599.5M574.5 972.3H599.5M598.1 934.1V1004.6M585.6 934.1H610.6M585.6 1004.6H610.6M609.2 1088.7V1129.3M596.7 1088.7H621.7M596.7 1129.3H621.7M620.2 1195.8V1222.5M607.7 1195.8H632.7M607.7 1222.5H632.7M631.2 1215.3V1238.0M618.8 1215.3H643.8M618.8 1238.0H643.8M642.3 1245.7V1258.5M629.8 1245.7H654.8M629.8 1258.5H654.8M653.4 1258.7V1271.5M640.9 1258.7H665.9M640.9 1271.5H665.9M664.4 1288.3V1301.2M651.9 1288.3H676.9M651.9 1301.2H676.9M675.5 1286.4V1299.2M663.0 1286.4H688.0M663.0 1299.2H688.0M686.5 1284.5V1297.3M674.0 1284.5H699.0M674.0 1297.3H699.0M697.5 1307.5V1320.3M685.0 1307.5H710.0M685.0 1320.3H710.0M708.6 1305.6V1318.4M696.1 1305.6H721.1M696.1 1318.4H721.1M719.7 1322.4V1335.3M707.2 1322.4H732.2M707.2 1335.3H732.2M730.7 1310.1V1322.9M718.2 1310.1H743.2M718.2 1322.9H743.2M741.8 1305.9V1318.7M729.2 1305.9H754.2M729.2 1318.7H754.2M752.8 1310.6V1323.4M740.3 1310.6H765.3M740.3 1323.4H765.3M763.9 1305.3V1318.2M751.4 1305.3H776.4M751.4 1318.2H776.4M774.9 1311.8V1324.6M762.4 1311.8H787.4M762.4 1324.6H787.4M786.0 1320.4V1333.2M773.5 1320.4H798.5M773.5 1333.2H798.5M797.0 1315.4V1328.2M784.5 1315.4H809.5M784.5 1328.2H809.5M808.0 1310.9V1323.7M795.5 1310.9H820.5M795.5 1323.7H820.5M819.1 1306.3V1319.1M806.6 1306.3H831.6M806.6 1319.1H831.6M830.2 1301.7V1314.5M817.7 1301.7H842.7M817.7 1314.5H842.7M841.2 1303.2V1316.1M828.7 1303.2H853.7M828.7 1316.1H853.7" stroke-width="2.2"/>
</g>
<path d="M282.8 1255.5L288.7 1244.5L294.6 1255.5Z" fill="none" stroke="#0000ff" stroke-width="1.8"/>
<path d="M293.8 1257.4L299.8 1246.4L305.7 1257.4Z" fill="none" stroke="#0000ff" stroke-width="1.8"/>
<path d="M304.9 1259.4L310.8 1248.4L316.7 1259.4Z" fill="none" stroke="#0000ff" stroke-width="1.8"/>
<path d="M315.9 1264.7L321.9 1253.7L327.8 1264.7Z" fill="none" stroke="#0000ff" stroke-width="1.8"/>
<path d="M327.0 1249.4L332.9 1238.5L338.8 1249.4Z" fill="none" stroke="#0000ff" stroke-width="1.8"/>
<path d="M338.0 1250.0L343.9 1239.0L349.9 1250.0Z" fill="none" stroke="#0000ff" stroke-width="1.8"/>
<path d="M349.1 1260.0L355.0 1249.0L360.9 1260.0Z" fill="none" stroke="#0000ff" stroke-width="1.8"/>
<path d="M360.1 1259.7L366.1 1248.7L372.0 1259.7Z" fill="none" stroke="#0000ff" stroke-width="1.8"/>
<path d="M371.2 1255.3L377.1 1244.4L383.0 1255.3Z" fill="none" stroke="#0000ff" stroke-width="1.8"/>
<path d="M382.2 1241.9L388.1 1230.9L394.1 1241.9Z" fill="none" stroke="#0000ff" stroke-width="1.8"/>
<path d="M393.3 1243.2L399.2 1232.2L405.1 1243.2Z" fill="none" stroke="#0000ff" stroke-width="1.8"/>
<path d="M404.3 1253.7L410.2 1242.7L416.2 1253.7Z" fill="none" stroke="#0000ff" stroke-width="1.8"/>
<path d="M415.4 1254.2L421.3 1243.2L427.2 1254.2Z" fill="none" stroke="#0000ff" stroke-width="1.8"/>
<path d="M426.4 1247.6L432.4 1236.7L438.3 1247.6Z" fill="none" stroke="#0000ff" stroke-width="1.8"/>
<path d="M437.5 1249.1L443.4 1238.1L449.3 1249.1Z" fill="none" stroke="#0000ff" stroke-width="1.8"/>
<path d="M448.5 1251.5L454.4 1240.5L460.4 1251.5Z" fill="none" stroke="#0000ff" stroke-width="1.8"/>
<path d="M459.6 1230.0L465.5 1219.0L471.4 1230.0Z" fill="none" stroke="#0000ff" stroke-width="1.8"/>
<path d="M470.6 1240.3L476.6 1229.3L482.5 1240.3Z" fill="none" stroke="#0000ff" stroke-width="1.8"/>
<path d="M481.7 1224.5L487.6 1213.5L493.5 1224.5Z" fill="none" stroke="#0000ff" stroke-width="1.8"/>
<path d="M492.7 1231.4L498.7 1220.4L504.6 1231.4Z" fill="none" stroke="#0000ff" stroke-width="1.8"/>
<path d="M503.8 1226.0L509.7 1215.0L515.6 1226.0Z" fill="none" stroke="#0000ff" stroke-width="1.8"/>
<path d="M514.8 1226.2L520.8 1215.2L526.7 1226.2Z" fill="none" stroke="#0000ff" stroke-width="1.8"/>
<path d="M525.9 1228.5L531.8 1217.5L537.7 1228.5Z" fill="none" stroke="#0000ff" stroke-width="1.8"/>
<path d="M536.9 1185.5L542.9 1174.5L548.8 1185.5Z" fill="none" stroke="#0000ff" stroke-width="1.8"/>
<path d="M548.0 1205.0L553.9 1194.0L559.8 1205.0Z" fill="none" stroke="#0000ff" stroke-width="1.8"/>
<path d="M559.0 1163.1L565.0 1152.1L570.9 1163.1Z" fill="none" stroke="#0000ff" stroke-width="1.8"/>
<path d="M570.1 1130.4L576.0 1119.4L581.9 1130.4Z" fill="none" stroke="#0000ff" stroke-width="1.8"/>
<path d="M581.1 943.2L587.0 932.2L593.0 943.2Z" fill="none" stroke="#0000ff" stroke-width="1.8"/>
<path d="M592.2 974.4L598.1 963.4L604.0 974.4Z" fill="none" stroke="#0000ff" stroke-width="1.8"/>
<path d="M603.2 1114.0L609.2 1103.1L615.1 1114.0Z" fill="none" stroke="#0000ff" stroke-width="1.8"/>
<path d="M614.3 1214.2L620.2 1203.2L626.1 1214.2Z" fill="none" stroke="#0000ff" stroke-width="1.8"/>
<path d="M625.3 1231.7L631.2 1220.7L637.2 1231.7Z" fill="none" stroke="#0000ff" stroke-width="1.8"/>
<path d="M636.4 1257.1L642.3 1246.1L648.2 1257.1Z" fill="none" stroke="#0000ff" stroke-width="1.8"/>
<path d="M647.4 1270.1L653.4 1259.1L659.3 1270.1Z" fill="none" stroke="#0000ff" stroke-width="1.8"/>
<path d="M658.5 1299.8L664.4 1288.8L670.3 1299.8Z" fill="none" stroke="#0000ff" stroke-width="1.8"/>
<path d="M669.5 1297.9L675.5 1286.9L681.4 1297.9Z" fill="none" stroke="#0000ff" stroke-width="1.8"/>
<path d="M680.6 1295.9L686.5 1284.9L692.4 1295.9Z" fill="none" stroke="#0000ff" stroke-width="1.8"/>
<path d="M691.6 1319.0L697.5 1308.0L703.5 1319.0Z" fill="none" stroke="#0000ff" stroke-width="1.8"/>
<path d="M702.7 1317.0L708.6 1306.0L714.5 1317.0Z" fill="none" stroke="#0000ff" stroke-width="1.8"/>
<path d="M713.7 1333.9L719.7 1322.9L725.6 1333.9Z" fill="none" stroke="#0000ff" stroke-width="1.8"/>
<path d="M724.8 1321.5L730.7 1310.5L736.6 1321.5Z" fill="none" stroke="#0000ff" stroke-width="1.8"/>
<path d="M735.8 1317.3L741.8 1306.3L747.7 1317.3Z" fill="none" stroke="#0000ff" stroke-width="1.8"/>
<path d="M746.9 1322.1L752.8 1311.1L758.7 1322.1Z" fill="none" stroke="#0000ff" stroke-width="1.8"/>
<path d="M757.9 1316.8L763.9 1305.8L769.8 1316.8Z" fill="none" stroke="#0000ff" stroke-width="1.8"/>
<path d="M769.0 1323.3L774.9 1312.3L780.8 1323.3Z" fill="none" stroke="#0000ff" stroke-width="1.8"/>
<path d="M780.0 1331.9L786.0 1320.9L791.9 1331.9Z" fill="none" stroke="#0000ff" stroke-width="1.8"/>
<path d="M791.1 1326.9L797.0 1315.9L802.9 1326.9Z" fill="none" stroke="#0000ff" stroke-width="1.8"/>
<path d="M802.1 1322.3L808.0 1311.3L814.0 1322.3Z" fill="none" stroke="#0000ff" stroke-width="1.8"/>
<path d="M813.2 1317.8L819.1 1306.8L825.0 1317.8Z" fill="none" stroke="#0000ff" stroke-width="1.8"/>
<path d="M824.2 1313.2L830.2 1302.2L836.1 1313.2Z" fill="none" stroke="#0000ff" stroke-width="1.8"/>
<path d="M835.3 1314.7L841.2 1303.7L847.1 1314.7Z" fill="none" stroke="#0000ff" stroke-width="1.8"/>
<g stroke="#40e0d0" fill="none" stroke-width="2.0" clip-path="url(#cb)">
<polyline points="178.2,1252.7 189.2,1251.6 200.3,1251.5 211.3,1242.8 222.4,1243.4 233.4,1242.2 244.5,1241.6 255.6,1241.8 266.6,1241.4 277.6,1239.8 288.7,1236.9 299.8,1236.6 310.8,1236.2 321.9,1233.6 332.9,1229.7 343.9,1231.4 355.0,1229.9 366.1,1237.7 377.1,1236.6 388.1,1226.5 399.2,1215.4 410.2,1214.6 421.3,1210.5 432.4,1197.2 443.4,1202.1 454.4,1152.1 465.5,1148.8 476.6,1083.0 487.6,992.7 498.7,913.0 509.7,848.3 520.8,1034.2 531.8,1117.7 542.9,1203.2 553.9,1219.6 565.0,1251.9 576.0,1262.7 587.0,1272.6 598.1,1288.7 609.2,1288.6 620.2,1304.8 631.2,1308.5 642.3,1314.0 653.4,1316.3 664.4,1317.6 675.5,1325.7 686.5,1331.9 697.5,1334.2 708.6,1334.7 719.7,1335.8 730.7,1334.7"/>
<path d="M178.2 1247.9V1257.5M165.7 1247.9H190.7M165.7 1257.5H190.7M189.2 1246.8V1256.4M176.8 1246.8H201.8M176.8 1256.4H201.8M200.3 1246.6V1256.3M187.8 1246.6H212.8M187.8 1256.3H212.8M211.3 1236.4V1249.2M198.8 1236.4H223.8M198.8 1249.2H223.8M222.4 1237.0V1249.9M209.9 1237.0H234.9M209.9 1249.9H234.9M233.4 1235.8V1248.6M220.9 1235.8H245.9M220.9 1248.6H245.9M244.5 1235.2V1248.0M232.0 1235.2H257.0M232.0 1248.0H257.0M255.6 1235.4V1248.2M243.1 1235.4H268.1M243.1 1248.2H268.1M266.6 1234.9V1247.8M254.1 1234.9H279.1M254.1 1247.8H279.1M277.6 1233.4V1246.2M265.1 1233.4H290.1M265.1 1246.2H290.1M288.7 1230.5V1243.3M276.2 1230.5H301.2M276.2 1243.3H301.2M299.8 1230.2V1243.0M287.2 1230.2H312.2M287.2 1243.0H312.2M310.8 1229.7V1242.6M298.3 1229.7H323.3M298.3 1242.6H323.3M321.9 1227.2V1240.0M309.4 1227.2H334.4M309.4 1240.0H334.4M332.9 1223.2V1236.1M320.4 1223.2H345.4M320.4 1236.1H345.4M343.9 1224.9V1237.8M331.4 1224.9H356.4M331.4 1237.8H356.4M355.0 1223.5V1236.3M342.5 1223.5H367.5M342.5 1236.3H367.5M366.1 1231.3V1244.1M353.6 1231.3H378.6M353.6 1244.1H378.6M377.1 1230.2V1243.0M364.6 1230.2H389.6M364.6 1243.0H389.6M388.1 1220.1V1232.9M375.6 1220.1H400.6M375.6 1232.9H400.6M399.2 1209.0V1221.8M386.7 1209.0H411.7M386.7 1221.8H411.7M410.2 1206.1V1223.2M397.8 1206.1H422.8M397.8 1223.2H422.8M421.3 1201.9V1219.0M408.8 1201.9H433.8M408.8 1219.0H433.8M432.4 1188.7V1205.7M419.9 1188.7H444.9M419.9 1205.7H444.9M443.4 1193.5V1210.6M430.9 1193.5H455.9M430.9 1210.6H455.9M454.4 1141.4V1162.8M441.9 1141.4H466.9M441.9 1162.8H466.9M465.5 1138.1V1159.4M453.0 1138.1H478.0M453.0 1159.4H478.0M476.6 1062.2V1103.8M464.1 1062.2H489.1M464.1 1103.8H489.1M487.6 964.9V1020.4M475.1 964.9H500.1M475.1 1020.4H500.1M498.7 873.5V952.5M486.2 873.5H511.2M486.2 952.5H511.2M509.7 810.5V886.1M497.2 810.5H522.2M497.2 886.1H522.2M520.8 1013.9V1054.5M508.2 1013.9H533.2M508.2 1054.5H533.2M531.8 1098.5V1136.9M519.3 1098.5H544.3M519.3 1136.9H544.3M542.9 1192.5V1213.8M530.4 1192.5H555.4M530.4 1213.8H555.4M553.9 1213.2V1226.0M541.4 1213.2H566.4M541.4 1226.0H566.4M565.0 1245.4V1258.3M552.5 1245.4H577.5M552.5 1258.3H577.5M576.0 1256.3V1269.1M563.5 1256.3H588.5M563.5 1269.1H588.5M587.0 1266.2V1279.0M574.5 1266.2H599.5M574.5 1279.0H599.5M598.1 1282.3V1295.1M585.6 1282.3H610.6M585.6 1295.1H610.6M609.2 1282.1V1295.0M596.7 1282.1H621.7M596.7 1295.0H621.7M620.2 1298.4V1311.2M607.7 1298.4H632.7M607.7 1311.2H632.7M631.2 1302.1V1314.9M618.8 1302.1H643.8M618.8 1314.9H643.8M642.3 1307.6V1320.4M629.8 1307.6H654.8M629.8 1320.4H654.8M653.4 1309.9V1322.8M640.9 1309.9H665.9M640.9 1322.8H665.9M664.4 1311.2V1324.0M651.9 1311.2H676.9M651.9 1324.0H676.9M675.5 1319.3V1332.1M663.0 1319.3H688.0M663.0 1332.1H688.0M686.5 1325.5V1338.3M674.0 1325.5H699.0M674.0 1338.3H699.0M697.5 1327.8V1340.6M685.0 1327.8H710.0M685.0 1340.6H710.0M708.6 1328.3V1341.1M696.1 1328.3H721.1M696.1 1341.1H721.1M719.7 1329.4V1342.2M707.2 1329.4H732.2M707.2 1342.2H732.2M730.7 1328.3V1341.2M718.2 1328.3H743.2M718.2 1341.2H743.2" stroke-width="2.2"/>
</g>
<path d="M183.2 1246.8L172.3 1252.7L183.2 1258.7Z" fill="none" stroke="#40e0d0" stroke-width="1.8"/>
<path d="M194.3 1245.6L183.3 1251.6L194.3 1257.5Z" fill="none" stroke="#40e0d0" stroke-width="1.8"/>
<path d="M205.3 1245.5L194.4 1251.5L205.3 1257.4Z" fill="none" stroke="#40e0d0" stroke-width="1.8"/>
<path d="M216.4 1236.9L205.4 1242.8L216.4 1248.7Z" fill="none" stroke="#40e0d0" stroke-width="1.8"/>
<path d="M227.4 1237.5L216.5 1243.4L227.4 1249.4Z" fill="none" stroke="#40e0d0" stroke-width="1.8"/>
<path d="M238.5 1236.2L227.5 1242.2L238.5 1248.1Z" fill="none" stroke="#40e0d0" stroke-width="1.8"/>
<path d="M249.5 1235.6L238.6 1241.6L249.5 1247.5Z" fill="none" stroke="#40e0d0" stroke-width="1.8"/>
<path d="M260.6 1235.9L249.6 1241.8L260.6 1247.8Z" fill="none" stroke="#40e0d0" stroke-width="1.8"/>
<path d="M271.6 1235.4L260.7 1241.4L271.6 1247.3Z" fill="none" stroke="#40e0d0" stroke-width="1.8"/>
<path d="M282.7 1233.9L271.7 1239.8L282.7 1245.7Z" fill="none" stroke="#40e0d0" stroke-width="1.8"/>
<path d="M293.7 1230.9L282.8 1236.9L293.7 1242.8Z" fill="none" stroke="#40e0d0" stroke-width="1.8"/>
<path d="M304.8 1230.6L293.8 1236.6L304.8 1242.5Z" fill="none" stroke="#40e0d0" stroke-width="1.8"/>
<path d="M315.8 1230.2L304.9 1236.2L315.8 1242.1Z" fill="none" stroke="#40e0d0" stroke-width="1.8"/>
<path d="M326.9 1227.7L315.9 1233.6L326.9 1239.6Z" fill="none" stroke="#40e0d0" stroke-width="1.8"/>
<path d="M337.9 1223.7L327.0 1229.7L337.9 1235.6Z" fill="none" stroke="#40e0d0" stroke-width="1.8"/>
<path d="M349.0 1225.4L338.0 1231.4L349.0 1237.3Z" fill="none" stroke="#40e0d0" stroke-width="1.8"/>
<path d="M360.0 1224.0L349.1 1229.9L360.0 1235.9Z" fill="none" stroke="#40e0d0" stroke-width="1.8"/>
<path d="M371.1 1231.7L360.1 1237.7L371.1 1243.6Z" fill="none" stroke="#40e0d0" stroke-width="1.8"/>
<path d="M382.1 1230.7L371.2 1236.6L382.1 1242.6Z" fill="none" stroke="#40e0d0" stroke-width="1.8"/>
<path d="M393.2 1220.5L382.2 1226.5L393.2 1232.4Z" fill="none" stroke="#40e0d0" stroke-width="1.8"/>
<path d="M404.2 1209.5L393.3 1215.4L404.2 1221.3Z" fill="none" stroke="#40e0d0" stroke-width="1.8"/>
<path d="M415.3 1208.7L404.3 1214.6L415.3 1220.6Z" fill="none" stroke="#40e0d0" stroke-width="1.8"/>
<path d="M426.3 1204.5L415.4 1210.5L426.3 1216.4Z" fill="none" stroke="#40e0d0" stroke-width="1.8"/>
<path d="M437.4 1191.3L426.4 1197.2L437.4 1203.1Z" fill="none" stroke="#40e0d0" stroke-width="1.8"/>
<path d="M448.4 1196.1L437.5 1202.1L448.4 1208.0Z" fill="none" stroke="#40e0d0" stroke-width="1.8"/>
<path d="M459.5 1146.2L448.5 1152.1L459.5 1158.1Z" fill="none" stroke="#40e0d0" stroke-width="1.8"/>
<path d="M470.5 1142.8L459.6 1148.8L470.5 1154.7Z" fill="none" stroke="#40e0d0" stroke-width="1.8"/>
<path d="M481.6 1077.1L470.6 1083.0L481.6 1088.9Z" fill="none" stroke="#40e0d0" stroke-width="1.8"/>
<path d="M492.6 986.7L481.7 992.7L492.6 998.6Z" fill="none" stroke="#40e0d0" stroke-width="1.8"/>
<path d="M503.7 907.1L492.7 913.0L503.7 919.0Z" fill="none" stroke="#40e0d0" stroke-width="1.8"/>
<path d="M514.7 842.4L503.8 848.3L514.7 854.3Z" fill="none" stroke="#40e0d0" stroke-width="1.8"/>
<path d="M525.8 1028.2L514.8 1034.2L525.8 1040.1Z" fill="none" stroke="#40e0d0" stroke-width="1.8"/>
<path d="M536.8 1111.8L525.9 1117.7L536.8 1123.7Z" fill="none" stroke="#40e0d0" stroke-width="1.8"/>
<path d="M547.9 1197.2L536.9 1203.2L547.9 1209.1Z" fill="none" stroke="#40e0d0" stroke-width="1.8"/>
<path d="M558.9 1213.7L548.0 1219.6L558.9 1225.5Z" fill="none" stroke="#40e0d0" stroke-width="1.8"/>
<path d="M570.0 1245.9L559.0 1251.9L570.0 1257.8Z" fill="none" stroke="#40e0d0" stroke-width="1.8"/>
<path d="M581.0 1256.8L570.1 1262.7L581.0 1268.7Z" fill="none" stroke="#40e0d0" stroke-width="1.8"/>
<path d="M592.1 1266.6L581.1 1272.6L592.1 1278.5Z" fill="none" stroke="#40e0d0" stroke-width="1.8"/>
<path d="M603.1 1282.7L592.2 1288.7L603.1 1294.6Z" fill="none" stroke="#40e0d0" stroke-width="1.8"/>
<path d="M614.2 1282.6L603.2 1288.6L614.2 1294.5Z" fill="none" stroke="#40e0d0" stroke-width="1.8"/>
<path d="M625.2 1298.8L614.3 1304.8L625.2 1310.7Z" fill="none" stroke="#40e0d0" stroke-width="1.8"/>
<path d="M636.3 1302.5L625.3 1308.5L636.3 1314.4Z" fill="none" stroke="#40e0d0" stroke-width="1.8"/>
<path d="M647.3 1308.1L636.4 1314.0L647.3 1320.0Z" fill="none" stroke="#40e0d0" stroke-width="1.8"/>
<path d="M658.4 1310.4L647.4 1316.3L658.4 1322.3Z" fill="none" stroke="#40e0d0" stroke-width="1.8"/>
<path d="M669.4 1311.7L658.5 1317.6L669.4 1323.5Z" fill="none" stroke="#40e0d0" stroke-width="1.8"/>
<path d="M680.5 1319.8L669.5 1325.7L680.5 1331.6Z" fill="none" stroke="#40e0d0" stroke-width="1.8"/>
<path d="M691.5 1325.9L680.6 1331.9L691.5 1337.8Z" fill="none" stroke="#40e0d0" stroke-width="1.8"/>
<path d="M702.6 1328.3L691.6 1334.2L702.6 1340.1Z" fill="none" stroke="#40e0d0" stroke-width="1.8"/>
<path d="M713.6 1328.8L702.7 1334.7L713.6 1340.7Z" fill="none" stroke="#40e0d0" stroke-width="1.8"/>
<path d="M724.7 1329.9L713.7 1335.8L724.7 1341.7Z" fill="none" stroke="#40e0d0" stroke-width="1.8"/>
<path d="M735.7 1328.8L724.8 1334.7L735.7 1340.7Z" fill="none" stroke="#40e0d0" stroke-width="1.8"/>
<g stroke="#bc8f8f" fill="none" stroke-width="2.0" clip-path="url(#cb)">
<polyline points="178.2,1239.2 189.2,1237.5 200.3,1238.5 211.3,1238.5 222.4,1238.5 233.4,1228.6 244.5,1225.7 255.6,1223.7 266.6,1228.5 277.6,1218.1 288.7,1214.1 299.8,1212.6 310.8,1199.8 321.9,1190.4 332.9,1200.1 343.9,1184.7 355.0,1185.6 366.1,1153.5 377.1,1132.2 388.1,1107.3 399.2,998.7 410.2,916.2 421.3,903.5 432.4,950.4 443.4,970.6 454.4,1090.8 465.5,1118.1 476.6,1169.3 487.6,1203.5 498.7,1228.6 509.7,1247.9 520.8,1269.8 531.8,1281.1 542.9,1288.8 553.9,1299.0 565.0,1297.2 576.0,1315.1 587.0,1315.6 598.1,1326.6 609.2,1330.5 620.2,1326.4 631.2,1328.8 642.3,1334.8 653.4,1335.9 664.4,1343.0 675.5,1345.0 686.5,1345.1 697.5,1349.2 708.6,1351.2 719.7,1351.8 730.7,1341.5"/>
<path d="M178.2 1232.8V1245.6M165.7 1232.8H190.7M165.7 1245.6H190.7M189.2 1231.1V1243.9M176.8 1231.1H201.8M176.8 1243.9H201.8M200.3 1232.1V1244.9M187.8 1232.1H212.8M187.8 1244.9H212.8M211.3 1232.1V1244.9M198.8 1232.1H223.8M198.8 1244.9H223.8M222.4 1232.1V1244.9M209.9 1232.1H234.9M209.9 1244.9H234.9M233.4 1222.2V1235.0M220.9 1222.2H245.9M220.9 1235.0H245.9M244.5 1219.2V1232.1M232.0 1219.2H257.0M232.0 1232.1H257.0M255.6 1217.3V1230.1M243.1 1217.3H268.1M243.1 1230.1H268.1M266.6 1222.1V1234.9M254.1 1222.1H279.1M254.1 1234.9H279.1M277.6 1211.7V1224.5M265.1 1211.7H290.1M265.1 1224.5H290.1M288.7 1207.7V1220.5M276.2 1207.7H301.2M276.2 1220.5H301.2M299.8 1206.2V1219.0M287.2 1206.2H312.2M287.2 1219.0H312.2M310.8 1191.3V1208.4M298.3 1191.3H323.3M298.3 1208.4H323.3M321.9 1181.8V1198.9M309.4 1181.8H334.4M309.4 1198.9H334.4M332.9 1191.5V1208.6M320.4 1191.5H345.4M320.4 1208.6H345.4M343.9 1176.1V1193.2M331.4 1176.1H356.4M331.4 1193.2H356.4M355.0 1177.0V1194.1M342.5 1177.0H367.5M342.5 1194.1H367.5M366.1 1141.8V1165.3M353.6 1141.8H378.6M353.6 1165.3H378.6M377.1 1119.9V1144.4M364.6 1119.9H389.6M364.6 1144.4H389.6M388.1 1093.9V1120.6M375.6 1093.9H400.6M375.6 1120.6H400.6M399.2 977.3V1020.0M386.7 977.3H411.7M386.7 1020.0H411.7M410.2 889.5V942.9M397.8 889.5H422.8M397.8 942.9H422.8M421.3 874.7V932.3M408.8 874.7H433.8M408.8 932.3H433.8M432.4 921.1V979.6M419.9 921.1H444.9M419.9 979.6H444.9M443.4 945.6V995.6M430.9 945.6H455.9M430.9 995.6H455.9M454.4 1076.9V1104.7M441.9 1076.9H466.9M441.9 1104.7H466.9M465.5 1103.1V1133.0M453.0 1103.1H478.0M453.0 1133.0H478.0M476.6 1157.5V1181.0M464.1 1157.5H489.1M464.1 1181.0H489.1M487.6 1193.5V1213.6M475.1 1193.5H500.1M475.1 1213.6H500.1M498.7 1222.1V1235.0M486.2 1222.1H511.2M486.2 1235.0H511.2M509.7 1241.5V1254.3M497.2 1241.5H522.2M497.2 1254.3H522.2M520.8 1263.4V1276.2M508.2 1263.4H533.2M508.2 1276.2H533.2M531.8 1274.7V1287.5M519.3 1274.7H544.3M519.3 1287.5H544.3M542.9 1282.4V1295.2M530.4 1282.4H555.4M530.4 1295.2H555.4M553.9 1292.6V1305.4M541.4 1292.6H566.4M541.4 1305.4H566.4M565.0 1290.8V1303.7M552.5 1290.8H577.5M552.5 1303.7H577.5M576.0 1308.7V1321.5M563.5 1308.7H588.5M563.5 1321.5H588.5M587.0 1309.2V1322.0M574.5 1309.2H599.5M574.5 1322.0H599.5M598.1 1320.2V1333.0M585.6 1320.2H610.6M585.6 1333.0H610.6M609.2 1324.1V1336.9M596.7 1324.1H621.7M596.7 1336.9H621.7M620.2 1320.0V1332.9M607.7 1320.0H632.7M607.7 1332.9H632.7M631.2 1322.4V1335.2M618.8 1322.4H643.8M618.8 1335.2H643.8M642.3 1328.4V1341.3M629.8 1328.4H654.8M629.8 1341.3H654.8M653.4 1329.5V1342.3M640.9 1329.5H665.9M640.9 1342.3H665.9M664.4 1336.6V1349.4M651.9 1336.6H676.9M651.9 1349.4H676.9M675.5 1338.6V1351.4M663.0 1338.6H688.0M663.0 1351.4H688.0M686.5 1338.7V1351.5M674.0 1338.7H699.0M674.0 1351.5H699.0M697.5 1342.7V1355.6M685.0 1342.7H710.0M685.0 1355.6H710.0M708.6 1344.8V1357.6M696.1 1344.8H721.1M696.1 1357.6H721.1M719.7 1345.4V1358.2M707.2 1345.4H732.2M707.2 1358.2H732.2M730.7 1335.1V1347.9M718.2 1335.1H743.2M718.2 1347.9H743.2" stroke-width="2.2"/>
</g>
<path d="M172.3 1234.1L178.2 1245.1L184.1 1234.1Z" fill="none" stroke="#bc8f8f" stroke-width="1.8"/>
<path d="M183.3 1232.4L189.2 1243.4L195.2 1232.4Z" fill="none" stroke="#bc8f8f" stroke-width="1.8"/>
<path d="M194.4 1233.5L200.3 1244.5L206.2 1233.5Z" fill="none" stroke="#bc8f8f" stroke-width="1.8"/>
<path d="M205.4 1233.5L211.3 1244.5L217.3 1233.5Z" fill="none" stroke="#bc8f8f" stroke-width="1.8"/>
<path d="M216.5 1233.5L222.4 1244.5L228.3 1233.5Z" fill="none" stroke="#bc8f8f" stroke-width="1.8"/>
<path d="M227.5 1223.5L233.4 1234.5L239.4 1223.5Z" fill="none" stroke="#bc8f8f" stroke-width="1.8"/>
<path d="M238.6 1220.6L244.5 1231.6L250.4 1220.6Z" fill="none" stroke="#bc8f8f" stroke-width="1.8"/>
<path d="M249.6 1218.6L255.6 1229.6L261.5 1218.6Z" fill="none" stroke="#bc8f8f" stroke-width="1.8"/>
<path d="M260.7 1223.5L266.6 1234.5L272.5 1223.5Z" fill="none" stroke="#bc8f8f" stroke-width="1.8"/>
<path d="M271.7 1213.1L277.6 1224.1L283.6 1213.1Z" fill="none" stroke="#bc8f8f" stroke-width="1.8"/>
<path d="M282.8 1209.1L288.7 1220.0L294.6 1209.1Z" fill="none" stroke="#bc8f8f" stroke-width="1.8"/>
<path d="M293.8 1207.6L299.8 1218.6L305.7 1207.6Z" fill="none" stroke="#bc8f8f" stroke-width="1.8"/>
<path d="M304.9 1194.8L310.8 1205.8L316.7 1194.8Z" fill="none" stroke="#bc8f8f" stroke-width="1.8"/>
<path d="M315.9 1185.3L321.9 1196.3L327.8 1185.3Z" fill="none" stroke="#bc8f8f" stroke-width="1.8"/>
<path d="M327.0 1195.0L332.9 1206.0L338.8 1195.0Z" fill="none" stroke="#bc8f8f" stroke-width="1.8"/>
<path d="M338.0 1179.6L343.9 1190.6L349.9 1179.6Z" fill="none" stroke="#bc8f8f" stroke-width="1.8"/>
<path d="M349.1 1180.5L355.0 1191.5L360.9 1180.5Z" fill="none" stroke="#bc8f8f" stroke-width="1.8"/>
<path d="M360.1 1148.5L366.1 1159.4L372.0 1148.5Z" fill="none" stroke="#bc8f8f" stroke-width="1.8"/>
<path d="M371.2 1127.1L377.1 1138.1L383.0 1127.1Z" fill="none" stroke="#bc8f8f" stroke-width="1.8"/>
<path d="M382.2 1102.2L388.1 1113.2L394.1 1102.2Z" fill="none" stroke="#bc8f8f" stroke-width="1.8"/>
<path d="M393.3 993.6L399.2 1004.6L405.1 993.6Z" fill="none" stroke="#bc8f8f" stroke-width="1.8"/>
<path d="M404.3 911.2L410.2 922.1L416.2 911.2Z" fill="none" stroke="#bc8f8f" stroke-width="1.8"/>
<path d="M415.4 898.5L421.3 909.4L427.2 898.5Z" fill="none" stroke="#bc8f8f" stroke-width="1.8"/>
<path d="M426.4 945.3L432.4 956.3L438.3 945.3Z" fill="none" stroke="#bc8f8f" stroke-width="1.8"/>
<path d="M437.5 965.6L443.4 976.6L449.3 965.6Z" fill="none" stroke="#bc8f8f" stroke-width="1.8"/>
<path d="M448.5 1085.8L454.4 1096.8L460.4 1085.8Z" fill="none" stroke="#bc8f8f" stroke-width="1.8"/>
<path d="M459.6 1113.0L465.5 1124.0L471.4 1113.0Z" fill="none" stroke="#bc8f8f" stroke-width="1.8"/>
<path d="M470.6 1164.2L476.6 1175.2L482.5 1164.2Z" fill="none" stroke="#bc8f8f" stroke-width="1.8"/>
<path d="M481.7 1198.5L487.6 1209.5L493.5 1198.5Z" fill="none" stroke="#bc8f8f" stroke-width="1.8"/>
<path d="M492.7 1223.5L498.7 1234.5L504.6 1223.5Z" fill="none" stroke="#bc8f8f" stroke-width="1.8"/>
<path d="M503.8 1242.9L509.7 1253.9L515.6 1242.9Z" fill="none" stroke="#bc8f8f" stroke-width="1.8"/>
<path d="M514.8 1264.8L520.8 1275.8L526.7 1264.8Z" fill="none" stroke="#bc8f8f" stroke-width="1.8"/>
<path d="M525.9 1276.1L531.8 1287.1L537.7 1276.1Z" fill="none" stroke="#bc8f8f" stroke-width="1.8"/>
<path d="M536.9 1283.8L542.9 1294.8L548.8 1283.8Z" fill="none" stroke="#bc8f8f" stroke-width="1.8"/>
<path d="M548.0 1293.9L553.9 1304.9L559.8 1293.9Z" fill="none" stroke="#bc8f8f" stroke-width="1.8"/>
<path d="M559.0 1292.2L565.0 1303.2L570.9 1292.2Z" fill="none" stroke="#bc8f8f" stroke-width="1.8"/>
<path d="M570.1 1310.0L576.0 1321.0L581.9 1310.0Z" fill="none" stroke="#bc8f8f" stroke-width="1.8"/>
<path d="M581.1 1310.6L587.0 1321.5L593.0 1310.6Z" fill="none" stroke="#bc8f8f" stroke-width="1.8"/>
<path d="M592.2 1321.6L598.1 1332.5L604.0 1321.6Z" fill="none" stroke="#bc8f8f" stroke-width="1.8"/>
<path d="M603.2 1325.5L609.2 1336.5L615.1 1325.5Z" fill="none" stroke="#bc8f8f" stroke-width="1.8"/>
<path d="M614.3 1321.4L620.2 1332.4L626.1 1321.4Z" fill="none" stroke="#bc8f8f" stroke-width="1.8"/>
<path d="M625.3 1323.7L631.2 1334.7L637.2 1323.7Z" fill="none" stroke="#bc8f8f" stroke-width="1.8"/>
<path d="M636.4 1329.8L642.3 1340.8L648.2 1329.8Z" fill="none" stroke="#bc8f8f" stroke-width="1.8"/>
<path d="M647.4 1330.8L653.4 1341.8L659.3 1330.8Z" fill="none" stroke="#bc8f8f" stroke-width="1.8"/>
<path d="M658.5 1338.0L664.4 1349.0L670.3 1338.0Z" fill="none" stroke="#bc8f8f" stroke-width="1.8"/>
<path d="M669.5 1340.0L675.5 1351.0L681.4 1340.0Z" fill="none" stroke="#bc8f8f" stroke-width="1.8"/>
<path d="M680.6 1340.1L686.5 1351.1L692.4 1340.1Z" fill="none" stroke="#bc8f8f" stroke-width="1.8"/>
<path d="M691.6 1344.1L697.5 1355.1L703.5 1344.1Z" fill="none" stroke="#bc8f8f" stroke-width="1.8"/>
<path d="M702.7 1346.1L708.6 1357.1L714.5 1346.1Z" fill="none" stroke="#bc8f8f" stroke-width="1.8"/>
<path d="M713.7 1346.8L719.7 1357.8L725.6 1346.8Z" fill="none" stroke="#bc8f8f" stroke-width="1.8"/>
<path d="M724.8 1336.4L730.7 1347.4L736.6 1336.4Z" fill="none" stroke="#bc8f8f" stroke-width="1.8"/>
<rect x="178.2" y="775.0" width="884.0" height="631.9" fill="none" stroke="#000" stroke-width="2.2"/>
<path d="M178.2 1406.9v-25M178.2 775.0v25M399.2 1406.9v-25M399.2 775.0v25M620.2 1406.9v-25M620.2 775.0v25M841.2 1406.9v-25M841.2 775.0v25M1062.2 1406.9v-25M1062.2 775.0v25M288.7 1406.9v-13M288.7 775.0v13M509.7 1406.9v-13M509.7 775.0v13M730.7 1406.9v-13M730.7 775.0v13M951.7 1406.9v-13M951.7 775.0v13M178.2 1358.2h25M1062.2 1358.2h-25M178.2 1261.0h25M1062.2 1261.0h-25M178.2 1163.8h25M1062.2 1163.8h-25M178.2 1066.6h25M1062.2 1066.6h-25M178.2 969.4h25M1062.2 969.4h-25M178.2 872.2h25M1062.2 872.2h-25M178.2 775.0h25M1062.2 775.0h-25M178.2 1309.6h13M1062.2 1309.6h-13M178.2 1212.4h13M1062.2 1212.4h-13M178.2 1115.2h13M1062.2 1115.2h-13M178.2 1018.0h13M1062.2 1018.0h-13M178.2 920.8h13M1062.2 920.8h-13M178.2 823.6h13M1062.2 823.6h-13" stroke="#000" stroke-width="2" fill="none"/>
<text transform="translate(165.0 645.3) scale(0.86 1)" text-anchor="end" style="font-family:'Liberation Serif',serif;font-size:39.5px">0.02</text>
<text transform="translate(165.0 554.3) scale(0.86 1)" text-anchor="end" style="font-family:'Liberation Serif',serif;font-size:39.5px">0.04</text>
<text transform="translate(165.0 463.3) scale(0.86 1)" text-anchor="end" style="font-family:'Liberation Serif',serif;font-size:39.5px">0.06</text>
<text transform="translate(165.0 372.3) scale(0.86 1)" text-anchor="end" style="font-family:'Liberation Serif',serif;font-size:39.5px">0.08</text>
<text transform="translate(165.0 281.3) scale(0.86 1)" text-anchor="end" style="font-family:'Liberation Serif',serif;font-size:39.5px">0.1</text>
<text transform="translate(165.0 190.3) scale(0.86 1)" text-anchor="end" style="font-family:'Liberation Serif',serif;font-size:39.5px">0.12</text>
<text transform="translate(165.0 99.3) scale(0.86 1)" text-anchor="end" style="font-family:'Liberation Serif',serif;font-size:39.5px">0.14</text>
<text transform="translate(178.2 685.0) scale(0.86 1)" text-anchor="middle" style="font-family:'Liberation Serif',serif;font-size:39.5px">1.8</text>
<text transform="translate(399.2 685.0) scale(0.86 1)" text-anchor="middle" style="font-family:'Liberation Serif',serif;font-size:39.5px">2</text>
<text transform="translate(620.2 685.0) scale(0.86 1)" text-anchor="middle" style="font-family:'Liberation Serif',serif;font-size:39.5px">2.2</text>
<text transform="translate(841.2 685.0) scale(0.86 1)" text-anchor="middle" style="font-family:'Liberation Serif',serif;font-size:39.5px">2.4</text>
<text transform="translate(1062.2 685.0) scale(0.86 1)" text-anchor="middle" style="font-family:'Liberation Serif',serif;font-size:39.5px">2.6</text>
<text transform="translate(165.0 1369.7) scale(0.86 1)" text-anchor="end" style="font-family:'Liberation Serif',serif;font-size:39.5px">-0.02</text>
<text transform="translate(165.0 1272.5) scale(0.86 1)" text-anchor="end" style="font-family:'Liberation Serif',serif;font-size:39.5px">0</text>
<text transform="translate(165.0 1175.3) scale(0.86 1)" text-anchor="end" style="font-family:'Liberation Serif',serif;font-size:39.5px">0.02</text>
<text transform="translate(165.0 1078.1) scale(0.86 1)" text-anchor="end" style="font-family:'Liberation Serif',serif;font-size:39.5px">0.04</text>
<text transform="translate(165.0 980.9) scale(0.86 1)" text-anchor="end" style="font-family:'Liberation Serif',serif;font-size:39.5px">0.06</text>
<text transform="translate(165.0 883.7) scale(0.86 1)" text-anchor="end" style="font-family:'Liberation Serif',serif;font-size:39.5px">0.08</text>
<text transform="translate(165.0 786.5) scale(0.86 1)" text-anchor="end" style="font-family:'Liberation Serif',serif;font-size:39.5px">0.1</text>
<text transform="translate(178.2 1442.9) scale(0.86 1)" text-anchor="middle" style="font-family:'Liberation Serif',serif;font-size:39.5px">1.8</text>
<text transform="translate(399.2 1442.9) scale(0.86 1)" text-anchor="middle" style="font-family:'Liberation Serif',serif;font-size:39.5px">2</text>
<text transform="translate(620.2 1442.9) scale(0.86 1)" text-anchor="middle" style="font-family:'Liberation Serif',serif;font-size:39.5px">2.2</text>
<text transform="translate(841.2 1442.9) scale(0.86 1)" text-anchor="middle" style="font-family:'Liberation Serif',serif;font-size:39.5px">2.4</text>
<text transform="translate(1062.2 1442.9) scale(0.86 1)" text-anchor="middle" style="font-family:'Liberation Serif',serif;font-size:39.5px">2.6</text>
<text x="622" y="738" text-anchor="middle" style="font-family:'Liberation Sans',sans-serif;font-size:57px">β</text>
<text x="622" y="1496.5" text-anchor="middle" style="font-family:'Liberation Sans',sans-serif;font-size:57px">β</text>
<text transform="translate(79 331) rotate(-90) scale(0.98 1)" text-anchor="middle" style="font-family:'Liberation Sans',sans-serif;font-size:57px">χ(β,κ)</text>
<text transform="translate(66 1088) rotate(-90) scale(0.99 1)" text-anchor="middle" style="font-family:'Liberation Sans',sans-serif;font-size:57px">χ(β,κ)<tspan dx="-4">−</tspan><tspan dx="-6">χ(β,0)</tspan></text>
<rect x="872.6" y="80.7" width="283.69999999999993" height="317.5" fill="#fff" stroke="#000" stroke-width="2"/>
<line x1="893.5" y1="112.1" x2="943.9" y2="112.1" stroke="#000000" stroke-width="2"/>
<circle cx="893.5" cy="112.1" r="5.4" fill="none" stroke="#000000" stroke-width="1.8"/>
<circle cx="943.9" cy="112.1" r="5.4" fill="none" stroke="#000000" stroke-width="1.8"/>
<text x="964" y="130.1" style="font-family:'Liberation Sans',sans-serif;font-size:56px" stroke="#000" stroke-width="0.3">κ</text>
<text x="994" y="130.1" style="font-family:'Liberation Sans',sans-serif;font-size:56px">=</text>
<text transform="translate(1023 130.1) scale(0.88 1)" style="font-family:'Liberation Serif',serif;font-size:62px">0.75</text>
<line x1="893.5" y1="162.8" x2="943.9" y2="162.8" stroke="#ff0000" stroke-width="2"/>
<rect x="888.5" y="157.8" width="10.0" height="10.0" fill="none" stroke="#ff0000" stroke-width="1.8"/>
<rect x="938.9" y="157.8" width="10.0" height="10.0" fill="none" stroke="#ff0000" stroke-width="1.8"/>
<text x="964" y="180.8" style="font-family:'Liberation Sans',sans-serif;font-size:56px" stroke="#000" stroke-width="0.3">κ</text>
<text x="994" y="180.8" style="font-family:'Liberation Sans',sans-serif;font-size:56px">=</text>
<text transform="translate(1023 180.8) scale(0.88 1)" style="font-family:'Liberation Serif',serif;font-size:62px">0.775</text>
<line x1="893.5" y1="213.5" x2="943.9" y2="213.5" stroke="#00ff00" stroke-width="2"/>
<path d="M887.6 213.5L893.5 207.6L899.4 213.5L893.5 219.4Z" fill="none" stroke="#00ff00" stroke-width="1.8"/>
<path d="M938.0 213.5L943.9 207.6L949.8 213.5L943.9 219.4Z" fill="none" stroke="#00ff00" stroke-width="1.8"/>
<text x="964" y="231.5" style="font-family:'Liberation Sans',sans-serif;font-size:56px" stroke="#000" stroke-width="0.3">κ</text>
<text x="994" y="231.5" style="font-family:'Liberation Sans',sans-serif;font-size:56px">=</text>
<text transform="translate(1023 231.5) scale(0.88 1)" style="font-family:'Liberation Serif',serif;font-size:62px">0.8</text>
<line x1="893.5" y1="264.2" x2="943.9" y2="264.2" stroke="#0000ff" stroke-width="2"/>
<path d="M887.6 269.2L893.5 258.3L899.4 269.2Z" fill="none" stroke="#0000ff" stroke-width="1.8"/>
<path d="M938.0 269.2L943.9 258.3L949.8 269.2Z" fill="none" stroke="#0000ff" stroke-width="1.8"/>
<text x="964" y="282.2" style="font-family:'Liberation Sans',sans-serif;font-size:56px" stroke="#000" stroke-width="0.3">κ</text>
<text x="994" y="282.2" style="font-family:'Liberation Sans',sans-serif;font-size:56px">=</text>
<text transform="translate(1023 282.2) scale(0.88 1)" style="font-family:'Liberation Serif',serif;font-size:62px">0.85</text>
<line x1="893.5" y1="314.9" x2="943.9" y2="314.9" stroke="#40e0d0" stroke-width="2"/>
<path d="M898.5 309.0L887.6 314.9L898.5 320.8Z" fill="none" stroke="#40e0d0" stroke-width="1.8"/>
<path d="M948.9 309.0L938.0 314.9L948.9 320.8Z" fill="none" stroke="#40e0d0" stroke-width="1.8"/>
<text x="964" y="332.9" style="font-family:'Liberation Sans',sans-serif;font-size:56px" stroke="#000" stroke-width="0.3">κ</text>
<text x="994" y="332.9" style="font-family:'Liberation Sans',sans-serif;font-size:56px">=</text>
<text transform="translate(1023 332.9) scale(0.88 1)" style="font-family:'Liberation Serif',serif;font-size:62px">0.9</text>
<line x1="893.5" y1="365.6" x2="943.9" y2="365.6" stroke="#bc8f8f" stroke-width="2"/>
<path d="M887.6 360.6L893.5 371.5L899.4 360.6Z" fill="none" stroke="#bc8f8f" stroke-width="1.8"/>
<path d="M938.0 360.6L943.9 371.5L949.8 360.6Z" fill="none" stroke="#bc8f8f" stroke-width="1.8"/>
<text x="964" y="383.6" style="font-family:'Liberation Sans',sans-serif;font-size:56px" stroke="#000" stroke-width="0.3">κ</text>
<text x="994" y="383.6" style="font-family:'Liberation Sans',sans-serif;font-size:56px">=</text>
<text transform="translate(1023 383.6) scale(0.88 1)" style="font-family:'Liberation Serif',serif;font-size:62px">0.95</text>
<rect x="872.6" y="838.5" width="283.69999999999993" height="317.9000000000001" fill="#fff" stroke="#000" stroke-width="2"/>
<line x1="893.5" y1="871.0" x2="943.9" y2="871.0" stroke="#000000" stroke-width="2"/>
<circle cx="893.5" cy="871.0" r="5.4" fill="none" stroke="#000000" stroke-width="1.8"/>
<circle cx="943.9" cy="871.0" r="5.4" fill="none" stroke="#000000" stroke-width="1.8"/>
<text x="964" y="889.0" style="font-family:'Liberation Sans',sans-serif;font-size:56px" stroke="#000" stroke-width="0.3">κ</text>
<text x="994" y="889.0" style="font-family:'Liberation Sans',sans-serif;font-size:56px">=</text>
<text transform="translate(1023 889.0) scale(0.88 1)" style="font-family:'Liberation Serif',serif;font-size:62px">0.75</text>
<line x1="893.5" y1="921.7" x2="943.9" y2="921.7" stroke="#ff0000" stroke-width="2"/>
<rect x="888.5" y="916.7" width="10.0" height="10.0" fill="none" stroke="#ff0000" stroke-width="1.8"/>
<rect x="938.9" y="916.7" width="10.0" height="10.0" fill="none" stroke="#ff0000" stroke-width="1.8"/>
<text x="964" y="939.7" style="font-family:'Liberation Sans',sans-serif;font-size:56px" stroke="#000" stroke-width="0.3">κ</text>
<text x="994" y="939.7" style="font-family:'Liberation Sans',sans-serif;font-size:56px">=</text>
<text transform="translate(1023 939.7) scale(0.88 1)" style="font-family:'Liberation Serif',serif;font-size:62px">0.775</text>
<line x1="893.5" y1="972.4" x2="943.9" y2="972.4" stroke="#00ff00" stroke-width="2"/>
<path d="M887.6 972.4L893.5 966.5L899.4 972.4L893.5 978.3Z" fill="none" stroke="#00ff00" stroke-width="1.8"/>
<path d="M938.0 972.4L943.9 966.5L949.8 972.4L943.9 978.3Z" fill="none" stroke="#00ff00" stroke-width="1.8"/>
<text x="964" y="990.4" style="font-family:'Liberation Sans',sans-serif;font-size:56px" stroke="#000" stroke-width="0.3">κ</text>
<text x="994" y="990.4" style="font-family:'Liberation Sans',sans-serif;font-size:56px">=</text>
<text transform="translate(1023 990.4) scale(0.88 1)" style="font-family:'Liberation Serif',serif;font-size:62px">0.8</text>
<line x1="893.5" y1="1023.1" x2="943.9" y2="1023.1" stroke="#0000ff" stroke-width="2"/>
<path d="M887.6 1028.1L893.5 1017.2L899.4 1028.1Z" fill="none" stroke="#0000ff" stroke-width="1.8"/>
<path d="M938.0 1028.1L943.9 1017.2L949.8 1028.1Z" fill="none" stroke="#0000ff" stroke-width="1.8"/>
<text x="964" y="1041.1" style="font-family:'Liberation Sans',sans-serif;font-size:56px" stroke="#000" stroke-width="0.3">κ</text>
<text x="994" y="1041.1" style="font-family:'Liberation Sans',sans-serif;font-size:56px">=</text>
<text transform="translate(1023 1041.1) scale(0.88 1)" style="font-family:'Liberation Serif',serif;font-size:62px">0.85</text>
<line x1="893.5" y1="1073.8" x2="943.9" y2="1073.8" stroke="#40e0d0" stroke-width="2"/>
<path d="M898.5 1067.9L887.6 1073.8L898.5 1079.7Z" fill="none" stroke="#40e0d0" stroke-width="1.8"/>
<path d="M948.9 1067.9L938.0 1073.8L948.9 1079.7Z" fill="none" stroke="#40e0d0" stroke-width="1.8"/>
<text x="964" y="1091.8" style="font-family:'Liberation Sans',sans-serif;font-size:56px" stroke="#000" stroke-width="0.3">κ</text>
<text x="994" y="1091.8" style="font-family:'Liberation Sans',sans-serif;font-size:56px">=</text>
<text transform="translate(1023 1091.8) scale(0.88 1)" style="font-family:'Liberation Serif',serif;font-size:62px">0.9</text>
<line x1="893.5" y1="1124.5" x2="943.9" y2="1124.5" stroke="#bc8f8f" stroke-width="2"/>
<path d="M887.6 1119.5L893.5 1130.4L899.4 1119.5Z" fill="none" stroke="#bc8f8f" stroke-width="1.8"/>
<path d="M938.0 1119.5L943.9 1130.4L949.8 1119.5Z" fill="none" stroke="#bc8f8f" stroke-width="1.8"/>
<text x="964" y="1142.5" style="font-family:'Liberation Sans',sans-serif;font-size:56px" stroke="#000" stroke-width="0.3">κ</text>
<text x="994" y="1142.5" style="font-family:'Liberation Sans',sans-serif;font-size:56px">=</text>
<text transform="translate(1023 1142.5) scale(0.88 1)" style="font-family:'Liberation Serif',serif;font-size:62px">0.95</text>
</svg></body></html>
